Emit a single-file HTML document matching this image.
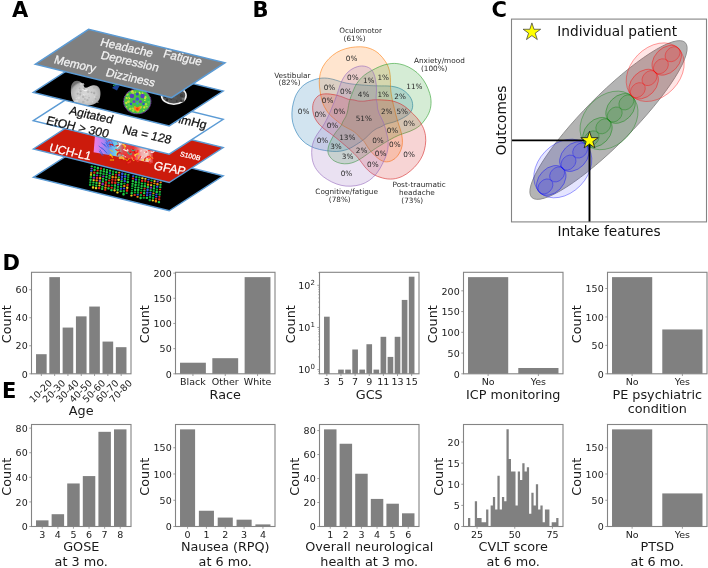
<!DOCTYPE html>
<html><head><meta charset="utf-8"><style>
html,body{margin:0;padding:0;background:#fff;}
svg{display:block;}
.t{font-family:'DejaVu Sans', 'Liberation Sans', sans-serif;font-size:9.5px;fill:#1a1a1a;}
.l{font-family:'DejaVu Sans', 'Liberation Sans', sans-serif;font-size:12.8px;fill:#1a1a1a;}
.pl{font-family:'DejaVu Sans','Liberation Sans',sans-serif;font-weight:bold;font-size:21px;fill:#000;}
.a{font-family:'Liberation Sans',Arial,sans-serif;}
.c{font-family:'DejaVu Sans', 'Liberation Sans', sans-serif;font-size:13.7px;fill:#111;}
.v{font-family:'DejaVu Sans', 'Liberation Sans', sans-serif;font-size:7.3px;fill:#2a2a2a;}
</style></head><body>
<svg width="708" height="568" viewBox="0 0 708 568">
<defs><filter id="bl1" x="-5%" y="-5%" width="110%" height="110%"><feGaussianBlur stdDeviation="0.35"/></filter>
<clipPath id="cl1"><path d="M35.1 64.3 L88.6 29.3 L225.1 62.7 L171.6 97.7 Z"/></clipPath>
<clipPath id="cl2"><path d="M33.3 92.4 L87.3 57.5 L223.2 91 L169.2 125.9 Z"/></clipPath>
<clipPath id="cl3"><path d="M33.3 120.7 L87.3 85.8 L223.2 119.3 L169.2 154.2 Z"/></clipPath>
<clipPath id="cl4"><path d="M33.3 149 L87.3 114.1 L223.2 147.6 L169.2 182.5 Z"/></clipPath>
<clipPath id="cl5"><path d="M33.3 177.3 L87.3 142.4 L223.2 175.9 L169.2 210.8 Z"/></clipPath>
</defs>
<rect x="36.02" y="354.19" width="10.64" height="19.61" fill="#808080"/>
<rect x="49.32" y="277.13" width="10.64" height="96.67" fill="#808080"/>
<rect x="62.63" y="327.57" width="10.64" height="46.23" fill="#808080"/>
<rect x="75.93" y="316.36" width="10.64" height="57.44" fill="#808080"/>
<rect x="89.23" y="306.55" width="10.64" height="67.25" fill="#808080"/>
<rect x="102.53" y="341.58" width="10.64" height="32.22" fill="#808080"/>
<rect x="115.84" y="347.18" width="10.64" height="26.62" fill="#808080"/>
<rect x="31.5" y="272.3" width="99.5" height="101.5" fill="none" stroke="#848484" stroke-width="1.1"/>
<line x1="29.3" y1="373.8" x2="31.5" y2="373.8" stroke="#848484" stroke-width="0.8"/>
<text x="27.7" y="377.5" text-anchor="end" class="t">0</text>
<line x1="29.3" y1="345.78" x2="31.5" y2="345.78" stroke="#848484" stroke-width="0.8"/>
<text x="27.7" y="349.48" text-anchor="end" class="t">20</text>
<line x1="29.3" y1="317.76" x2="31.5" y2="317.76" stroke="#848484" stroke-width="0.8"/>
<text x="27.7" y="321.46" text-anchor="end" class="t">40</text>
<line x1="29.3" y1="289.74" x2="31.5" y2="289.74" stroke="#848484" stroke-width="0.8"/>
<text x="27.7" y="293.44" text-anchor="end" class="t">60</text>
<line x1="41.34" y1="373.8" x2="41.34" y2="376" stroke="#848484" stroke-width="0.8"/>
<text transform="translate(43.07,393.5) rotate(-45)" text-anchor="middle" class="t">10-20</text>
<line x1="54.65" y1="373.8" x2="54.65" y2="376" stroke="#848484" stroke-width="0.8"/>
<text transform="translate(56.38,393.5) rotate(-45)" text-anchor="middle" class="t">20-30</text>
<line x1="67.95" y1="373.8" x2="67.95" y2="376" stroke="#848484" stroke-width="0.8"/>
<text transform="translate(69.68,393.5) rotate(-45)" text-anchor="middle" class="t">30-40</text>
<line x1="81.25" y1="373.8" x2="81.25" y2="376" stroke="#848484" stroke-width="0.8"/>
<text transform="translate(82.98,393.5) rotate(-45)" text-anchor="middle" class="t">40-50</text>
<line x1="94.55" y1="373.8" x2="94.55" y2="376" stroke="#848484" stroke-width="0.8"/>
<text transform="translate(96.28,393.5) rotate(-45)" text-anchor="middle" class="t">50-60</text>
<line x1="107.85" y1="373.8" x2="107.85" y2="376" stroke="#848484" stroke-width="0.8"/>
<text transform="translate(109.58,393.5) rotate(-45)" text-anchor="middle" class="t">60-70</text>
<line x1="121.16" y1="373.8" x2="121.16" y2="376" stroke="#848484" stroke-width="0.8"/>
<text transform="translate(122.89,393.5) rotate(-45)" text-anchor="middle" class="t">70-80</text>
<text x="81.25" y="415.1" text-anchor="middle" class="l">Age</text>
<text transform="translate(11.3,324.25) rotate(-90)" text-anchor="middle" class="l">Count</text>
<rect x="180.02" y="362.72" width="25.84" height="11.08" fill="#808080"/>
<rect x="212.33" y="358.19" width="25.84" height="15.61" fill="#808080"/>
<rect x="244.63" y="277.13" width="25.84" height="96.67" fill="#808080"/>
<rect x="175.5" y="272.3" width="99.5" height="101.5" fill="none" stroke="#848484" stroke-width="1.1"/>
<line x1="173.3" y1="373.8" x2="175.5" y2="373.8" stroke="#848484" stroke-width="0.8"/>
<text x="171.7" y="377.5" text-anchor="end" class="t">0</text>
<line x1="173.3" y1="348.63" x2="175.5" y2="348.63" stroke="#848484" stroke-width="0.8"/>
<text x="171.7" y="352.33" text-anchor="end" class="t">50</text>
<line x1="173.3" y1="323.45" x2="175.5" y2="323.45" stroke="#848484" stroke-width="0.8"/>
<text x="171.7" y="327.15" text-anchor="end" class="t">100</text>
<line x1="173.3" y1="298.28" x2="175.5" y2="298.28" stroke="#848484" stroke-width="0.8"/>
<text x="171.7" y="301.98" text-anchor="end" class="t">150</text>
<line x1="173.3" y1="273.11" x2="175.5" y2="273.11" stroke="#848484" stroke-width="0.8"/>
<text x="171.7" y="276.81" text-anchor="end" class="t">200</text>
<line x1="192.94" y1="373.8" x2="192.94" y2="376" stroke="#848484" stroke-width="0.8"/>
<text x="192.94" y="385.2" text-anchor="middle" class="t">Black</text>
<line x1="225.25" y1="373.8" x2="225.25" y2="376" stroke="#848484" stroke-width="0.8"/>
<text x="225.25" y="385.2" text-anchor="middle" class="t">Other</text>
<line x1="257.56" y1="373.8" x2="257.56" y2="376" stroke="#848484" stroke-width="0.8"/>
<text x="257.56" y="385.2" text-anchor="middle" class="t">White</text>
<text x="225.25" y="398.5" text-anchor="middle" class="l">Race</text>
<text transform="translate(149.3,324.25) rotate(-90)" text-anchor="middle" class="l">Count</text>
<rect x="324.02" y="316.69" width="5.65" height="57.11" fill="#808080"/>
<rect x="338.16" y="369.6" width="5.65" height="4.2" fill="#808080"/>
<rect x="345.22" y="369.6" width="5.65" height="4.2" fill="#808080"/>
<rect x="352.29" y="349.49" width="5.65" height="24.31" fill="#808080"/>
<rect x="359.36" y="369.6" width="5.65" height="4.2" fill="#808080"/>
<rect x="366.42" y="344.22" width="5.65" height="29.58" fill="#808080"/>
<rect x="373.49" y="369.6" width="5.65" height="4.2" fill="#808080"/>
<rect x="380.56" y="336.8" width="5.65" height="37" fill="#808080"/>
<rect x="387.62" y="356.91" width="5.65" height="16.89" fill="#808080"/>
<rect x="394.69" y="336.8" width="5.65" height="37" fill="#808080"/>
<rect x="401.76" y="299.92" width="5.65" height="73.88" fill="#808080"/>
<rect x="408.82" y="276.7" width="5.65" height="97.1" fill="#808080"/>
<rect x="319.5" y="272.3" width="99.5" height="101.5" fill="none" stroke="#848484" stroke-width="1.1"/>
<line x1="318.2" y1="373.68" x2="319.5" y2="373.68" stroke="#848484" stroke-width="0.6"/>
<line x1="318.2" y1="371.53" x2="319.5" y2="371.53" stroke="#848484" stroke-width="0.6"/>
<line x1="318.2" y1="356.91" x2="319.5" y2="356.91" stroke="#848484" stroke-width="0.6"/>
<line x1="318.2" y1="349.49" x2="319.5" y2="349.49" stroke="#848484" stroke-width="0.6"/>
<line x1="318.2" y1="344.22" x2="319.5" y2="344.22" stroke="#848484" stroke-width="0.6"/>
<line x1="318.2" y1="340.14" x2="319.5" y2="340.14" stroke="#848484" stroke-width="0.6"/>
<line x1="318.2" y1="336.8" x2="319.5" y2="336.8" stroke="#848484" stroke-width="0.6"/>
<line x1="318.2" y1="333.98" x2="319.5" y2="333.98" stroke="#848484" stroke-width="0.6"/>
<line x1="318.2" y1="331.53" x2="319.5" y2="331.53" stroke="#848484" stroke-width="0.6"/>
<line x1="318.2" y1="329.38" x2="319.5" y2="329.38" stroke="#848484" stroke-width="0.6"/>
<line x1="318.2" y1="314.76" x2="319.5" y2="314.76" stroke="#848484" stroke-width="0.6"/>
<line x1="318.2" y1="307.34" x2="319.5" y2="307.34" stroke="#848484" stroke-width="0.6"/>
<line x1="318.2" y1="302.07" x2="319.5" y2="302.07" stroke="#848484" stroke-width="0.6"/>
<line x1="318.2" y1="297.99" x2="319.5" y2="297.99" stroke="#848484" stroke-width="0.6"/>
<line x1="318.2" y1="294.65" x2="319.5" y2="294.65" stroke="#848484" stroke-width="0.6"/>
<line x1="318.2" y1="291.83" x2="319.5" y2="291.83" stroke="#848484" stroke-width="0.6"/>
<line x1="318.2" y1="289.38" x2="319.5" y2="289.38" stroke="#848484" stroke-width="0.6"/>
<line x1="318.2" y1="287.23" x2="319.5" y2="287.23" stroke="#848484" stroke-width="0.6"/>
<line x1="318.2" y1="272.61" x2="319.5" y2="272.61" stroke="#848484" stroke-width="0.6"/>
<line x1="317.3" y1="369.6" x2="319.5" y2="369.6" stroke="#848484" stroke-width="0.8"/>
<text x="314.9" y="373" text-anchor="end" class="t">10<tspan dy="-4" font-size="7">0</tspan></text>
<line x1="317.3" y1="327.45" x2="319.5" y2="327.45" stroke="#848484" stroke-width="0.8"/>
<text x="314.9" y="330.85" text-anchor="end" class="t">10<tspan dy="-4" font-size="7">1</tspan></text>
<line x1="317.3" y1="285.3" x2="319.5" y2="285.3" stroke="#848484" stroke-width="0.8"/>
<text x="314.9" y="288.7" text-anchor="end" class="t">10<tspan dy="-4" font-size="7">2</tspan></text>
<line x1="326.85" y1="373.8" x2="326.85" y2="376" stroke="#848484" stroke-width="0.8"/>
<text x="326.85" y="385.2" text-anchor="middle" class="t">3</text>
<line x1="340.98" y1="373.8" x2="340.98" y2="376" stroke="#848484" stroke-width="0.8"/>
<text x="340.98" y="385.2" text-anchor="middle" class="t">5</text>
<line x1="355.12" y1="373.8" x2="355.12" y2="376" stroke="#848484" stroke-width="0.8"/>
<text x="355.12" y="385.2" text-anchor="middle" class="t">7</text>
<line x1="369.25" y1="373.8" x2="369.25" y2="376" stroke="#848484" stroke-width="0.8"/>
<text x="369.25" y="385.2" text-anchor="middle" class="t">9</text>
<line x1="383.38" y1="373.8" x2="383.38" y2="376" stroke="#848484" stroke-width="0.8"/>
<text x="383.38" y="385.2" text-anchor="middle" class="t">11</text>
<line x1="397.52" y1="373.8" x2="397.52" y2="376" stroke="#848484" stroke-width="0.8"/>
<text x="397.52" y="385.2" text-anchor="middle" class="t">13</text>
<line x1="411.65" y1="373.8" x2="411.65" y2="376" stroke="#848484" stroke-width="0.8"/>
<text x="411.65" y="385.2" text-anchor="middle" class="t">15</text>
<text x="369.25" y="398.5" text-anchor="middle" class="l">GCS</text>
<text transform="translate(295.3,324.25) rotate(-90)" text-anchor="middle" class="l">Count</text>
<rect x="468.02" y="277.13" width="40.2" height="96.67" fill="#808080"/>
<rect x="518.28" y="367.99" width="40.2" height="5.81" fill="#808080"/>
<rect x="463.5" y="272.3" width="99.5" height="101.5" fill="none" stroke="#848484" stroke-width="1.1"/>
<line x1="461.3" y1="373.8" x2="463.5" y2="373.8" stroke="#848484" stroke-width="0.8"/>
<text x="459.7" y="377.5" text-anchor="end" class="t">0</text>
<line x1="461.3" y1="353.06" x2="463.5" y2="353.06" stroke="#848484" stroke-width="0.8"/>
<text x="459.7" y="356.76" text-anchor="end" class="t">50</text>
<line x1="461.3" y1="332.31" x2="463.5" y2="332.31" stroke="#848484" stroke-width="0.8"/>
<text x="459.7" y="336.01" text-anchor="end" class="t">100</text>
<line x1="461.3" y1="311.57" x2="463.5" y2="311.57" stroke="#848484" stroke-width="0.8"/>
<text x="459.7" y="315.27" text-anchor="end" class="t">150</text>
<line x1="461.3" y1="290.82" x2="463.5" y2="290.82" stroke="#848484" stroke-width="0.8"/>
<text x="459.7" y="294.52" text-anchor="end" class="t">200</text>
<line x1="488.12" y1="373.8" x2="488.12" y2="376" stroke="#848484" stroke-width="0.8"/>
<text x="488.12" y="385.2" text-anchor="middle" class="t">No</text>
<line x1="538.38" y1="373.8" x2="538.38" y2="376" stroke="#848484" stroke-width="0.8"/>
<text x="538.38" y="385.2" text-anchor="middle" class="t">Yes</text>
<text x="513.25" y="398.5" text-anchor="middle" class="l">ICP monitoring</text>
<text transform="translate(437.3,324.25) rotate(-90)" text-anchor="middle" class="l">Count</text>
<rect x="612.02" y="277.13" width="40.2" height="96.67" fill="#808080"/>
<rect x="662.28" y="329.45" width="40.2" height="44.35" fill="#808080"/>
<rect x="607.5" y="272.3" width="99.5" height="101.5" fill="none" stroke="#848484" stroke-width="1.1"/>
<line x1="605.3" y1="373.8" x2="607.5" y2="373.8" stroke="#848484" stroke-width="0.8"/>
<text x="603.7" y="377.5" text-anchor="end" class="t">0</text>
<line x1="605.3" y1="345.37" x2="607.5" y2="345.37" stroke="#848484" stroke-width="0.8"/>
<text x="603.7" y="349.07" text-anchor="end" class="t">50</text>
<line x1="605.3" y1="316.94" x2="607.5" y2="316.94" stroke="#848484" stroke-width="0.8"/>
<text x="603.7" y="320.64" text-anchor="end" class="t">100</text>
<line x1="605.3" y1="288.51" x2="607.5" y2="288.51" stroke="#848484" stroke-width="0.8"/>
<text x="603.7" y="292.21" text-anchor="end" class="t">150</text>
<line x1="632.12" y1="373.8" x2="632.12" y2="376" stroke="#848484" stroke-width="0.8"/>
<text x="632.12" y="385.2" text-anchor="middle" class="t">No</text>
<line x1="682.38" y1="373.8" x2="682.38" y2="376" stroke="#848484" stroke-width="0.8"/>
<text x="682.38" y="385.2" text-anchor="middle" class="t">Yes</text>
<text x="657.25" y="398.5" text-anchor="middle" class="l">PE psychiatric</text>
<text x="657.25" y="413.1" text-anchor="middle" class="l">condition</text>
<text transform="translate(581.3,324.25) rotate(-90)" text-anchor="middle" class="l">Count</text>
<rect x="36.02" y="520.35" width="12.48" height="6.15" fill="#808080"/>
<rect x="51.62" y="514.2" width="12.48" height="12.3" fill="#808080"/>
<rect x="67.21" y="483.46" width="12.48" height="43.04" fill="#808080"/>
<rect x="82.81" y="476.08" width="12.48" height="50.42" fill="#808080"/>
<rect x="98.41" y="431.82" width="12.48" height="94.68" fill="#808080"/>
<rect x="114" y="429.36" width="12.48" height="97.14" fill="#808080"/>
<rect x="31.5" y="424.5" width="99.5" height="102" fill="none" stroke="#848484" stroke-width="1.1"/>
<line x1="29.3" y1="526.5" x2="31.5" y2="526.5" stroke="#848484" stroke-width="0.8"/>
<text x="27.7" y="530.2" text-anchor="end" class="t">0</text>
<line x1="29.3" y1="501.91" x2="31.5" y2="501.91" stroke="#848484" stroke-width="0.8"/>
<text x="27.7" y="505.61" text-anchor="end" class="t">20</text>
<line x1="29.3" y1="477.31" x2="31.5" y2="477.31" stroke="#848484" stroke-width="0.8"/>
<text x="27.7" y="481.01" text-anchor="end" class="t">40</text>
<line x1="29.3" y1="452.72" x2="31.5" y2="452.72" stroke="#848484" stroke-width="0.8"/>
<text x="27.7" y="456.42" text-anchor="end" class="t">60</text>
<line x1="29.3" y1="428.13" x2="31.5" y2="428.13" stroke="#848484" stroke-width="0.8"/>
<text x="27.7" y="431.83" text-anchor="end" class="t">80</text>
<line x1="42.26" y1="526.5" x2="42.26" y2="528.7" stroke="#848484" stroke-width="0.8"/>
<text x="42.26" y="537.9" text-anchor="middle" class="t">3</text>
<line x1="57.86" y1="526.5" x2="57.86" y2="528.7" stroke="#848484" stroke-width="0.8"/>
<text x="57.86" y="537.9" text-anchor="middle" class="t">4</text>
<line x1="73.45" y1="526.5" x2="73.45" y2="528.7" stroke="#848484" stroke-width="0.8"/>
<text x="73.45" y="537.9" text-anchor="middle" class="t">5</text>
<line x1="89.05" y1="526.5" x2="89.05" y2="528.7" stroke="#848484" stroke-width="0.8"/>
<text x="89.05" y="537.9" text-anchor="middle" class="t">6</text>
<line x1="104.64" y1="526.5" x2="104.64" y2="528.7" stroke="#848484" stroke-width="0.8"/>
<text x="104.64" y="537.9" text-anchor="middle" class="t">7</text>
<line x1="120.24" y1="526.5" x2="120.24" y2="528.7" stroke="#848484" stroke-width="0.8"/>
<text x="120.24" y="537.9" text-anchor="middle" class="t">8</text>
<text x="81.25" y="551.2" text-anchor="middle" class="l">GOSE</text>
<text x="81.25" y="565.8" text-anchor="middle" class="l">at 3 mo.</text>
<text transform="translate(11.3,476.7) rotate(-90)" text-anchor="middle" class="l">Count</text>
<rect x="180.02" y="429.36" width="15.08" height="97.14" fill="#808080"/>
<rect x="198.87" y="510.75" width="15.08" height="15.75" fill="#808080"/>
<rect x="217.71" y="517.57" width="15.08" height="8.93" fill="#808080"/>
<rect x="236.56" y="519.67" width="15.08" height="6.83" fill="#808080"/>
<rect x="255.4" y="524.4" width="15.08" height="2.1" fill="#808080"/>
<rect x="175.5" y="424.5" width="99.5" height="102" fill="none" stroke="#848484" stroke-width="1.1"/>
<line x1="173.3" y1="526.5" x2="175.5" y2="526.5" stroke="#848484" stroke-width="0.8"/>
<text x="171.7" y="530.2" text-anchor="end" class="t">0</text>
<line x1="173.3" y1="500.25" x2="175.5" y2="500.25" stroke="#848484" stroke-width="0.8"/>
<text x="171.7" y="503.95" text-anchor="end" class="t">50</text>
<line x1="173.3" y1="473.99" x2="175.5" y2="473.99" stroke="#848484" stroke-width="0.8"/>
<text x="171.7" y="477.69" text-anchor="end" class="t">100</text>
<line x1="173.3" y1="447.74" x2="175.5" y2="447.74" stroke="#848484" stroke-width="0.8"/>
<text x="171.7" y="451.44" text-anchor="end" class="t">150</text>
<line x1="187.56" y1="526.5" x2="187.56" y2="528.7" stroke="#848484" stroke-width="0.8"/>
<text x="187.56" y="537.9" text-anchor="middle" class="t">0</text>
<line x1="206.41" y1="526.5" x2="206.41" y2="528.7" stroke="#848484" stroke-width="0.8"/>
<text x="206.41" y="537.9" text-anchor="middle" class="t">1</text>
<line x1="225.25" y1="526.5" x2="225.25" y2="528.7" stroke="#848484" stroke-width="0.8"/>
<text x="225.25" y="537.9" text-anchor="middle" class="t">2</text>
<line x1="244.09" y1="526.5" x2="244.09" y2="528.7" stroke="#848484" stroke-width="0.8"/>
<text x="244.09" y="537.9" text-anchor="middle" class="t">3</text>
<line x1="262.94" y1="526.5" x2="262.94" y2="528.7" stroke="#848484" stroke-width="0.8"/>
<text x="262.94" y="537.9" text-anchor="middle" class="t">4</text>
<text x="225.25" y="551.2" text-anchor="middle" class="l">Nausea (RPQ)</text>
<text x="225.25" y="565.8" text-anchor="middle" class="l">at 6 mo.</text>
<text transform="translate(149.3,476.7) rotate(-90)" text-anchor="middle" class="l">Count</text>
<rect x="324.02" y="429.36" width="12.48" height="97.14" fill="#808080"/>
<rect x="339.62" y="443.75" width="12.48" height="82.75" fill="#808080"/>
<rect x="355.21" y="473.73" width="12.48" height="52.77" fill="#808080"/>
<rect x="370.81" y="498.92" width="12.48" height="27.58" fill="#808080"/>
<rect x="386.41" y="503.71" width="12.48" height="22.79" fill="#808080"/>
<rect x="402" y="513.31" width="12.48" height="13.19" fill="#808080"/>
<rect x="319.5" y="424.5" width="99.5" height="102" fill="none" stroke="#848484" stroke-width="1.1"/>
<line x1="317.3" y1="526.5" x2="319.5" y2="526.5" stroke="#848484" stroke-width="0.8"/>
<text x="315.7" y="530.2" text-anchor="end" class="t">0</text>
<line x1="317.3" y1="502.51" x2="319.5" y2="502.51" stroke="#848484" stroke-width="0.8"/>
<text x="315.7" y="506.21" text-anchor="end" class="t">20</text>
<line x1="317.3" y1="478.53" x2="319.5" y2="478.53" stroke="#848484" stroke-width="0.8"/>
<text x="315.7" y="482.23" text-anchor="end" class="t">40</text>
<line x1="317.3" y1="454.54" x2="319.5" y2="454.54" stroke="#848484" stroke-width="0.8"/>
<text x="315.7" y="458.24" text-anchor="end" class="t">60</text>
<line x1="317.3" y1="430.56" x2="319.5" y2="430.56" stroke="#848484" stroke-width="0.8"/>
<text x="315.7" y="434.26" text-anchor="end" class="t">80</text>
<line x1="330.26" y1="526.5" x2="330.26" y2="528.7" stroke="#848484" stroke-width="0.8"/>
<text x="330.26" y="537.9" text-anchor="middle" class="t">1</text>
<line x1="345.86" y1="526.5" x2="345.86" y2="528.7" stroke="#848484" stroke-width="0.8"/>
<text x="345.86" y="537.9" text-anchor="middle" class="t">2</text>
<line x1="361.45" y1="526.5" x2="361.45" y2="528.7" stroke="#848484" stroke-width="0.8"/>
<text x="361.45" y="537.9" text-anchor="middle" class="t">3</text>
<line x1="377.05" y1="526.5" x2="377.05" y2="528.7" stroke="#848484" stroke-width="0.8"/>
<text x="377.05" y="537.9" text-anchor="middle" class="t">4</text>
<line x1="392.64" y1="526.5" x2="392.64" y2="528.7" stroke="#848484" stroke-width="0.8"/>
<text x="392.64" y="537.9" text-anchor="middle" class="t">5</text>
<line x1="408.24" y1="526.5" x2="408.24" y2="528.7" stroke="#848484" stroke-width="0.8"/>
<text x="408.24" y="537.9" text-anchor="middle" class="t">6</text>
<text x="369.25" y="551.2" text-anchor="middle" class="l">Overall neurological</text>
<text x="369.25" y="565.8" text-anchor="middle" class="l">health at 3 mo.</text>
<text transform="translate(299.3,476.7) rotate(-90)" text-anchor="middle" class="l">Count</text>
<path d="M468.02 526.5V518.05H470.28V526.5ZM474.81 526.5V501.16H477.07V526.5ZM477.07 526.5V518.05H479.33V526.5ZM479.33 526.5V518.05H481.59V526.5ZM481.59 526.5V522.28H483.85V526.5ZM483.85 526.5V522.28H486.11V526.5ZM486.11 526.5V509.61H488.38V526.5ZM490.64 526.5V505.38H492.9V526.5ZM492.9 526.5V496.93H495.16V526.5ZM495.16 526.5V509.61H497.42V526.5ZM497.42 526.5V475.82H499.68V526.5ZM499.68 526.5V509.61H501.94V526.5ZM501.94 526.5V496.93H504.2V526.5ZM504.2 526.5V501.16H506.47V526.5ZM506.47 526.5V429.36H508.73V526.5ZM508.73 526.5V458.92H510.99V526.5ZM510.99 526.5V471.59H513.25V526.5ZM513.25 526.5V471.59H515.51V526.5ZM515.51 526.5V505.38H517.77V526.5ZM517.77 526.5V471.59H520.03V526.5ZM520.03 526.5V480.04H522.3V526.5ZM522.3 526.5V463.15H524.56V526.5ZM524.56 526.5V471.59H526.82V526.5ZM526.82 526.5V467.37H529.08V526.5ZM529.08 526.5V513.83H531.34V526.5ZM531.34 526.5V492.71H533.6V526.5ZM533.6 526.5V505.38H535.86V526.5ZM535.86 526.5V484.26H538.12V526.5ZM538.12 526.5V509.61H540.39V526.5ZM540.39 526.5V505.38H542.65V526.5ZM542.65 526.5V522.28H544.91V526.5ZM544.91 526.5V509.61H547.17V526.5ZM547.17 526.5V509.61H549.43V526.5ZM551.69 526.5V522.28H553.95V526.5ZM553.95 526.5V522.28H556.22V526.5ZM556.22 526.5V518.05H558.48V526.5Z" fill="#808080"/>
<rect x="463.5" y="424.5" width="99.5" height="102" fill="none" stroke="#848484" stroke-width="1.1"/>
<line x1="461.3" y1="526.5" x2="463.5" y2="526.5" stroke="#848484" stroke-width="0.8"/>
<text x="459.7" y="530.2" text-anchor="end" class="t">0</text>
<line x1="461.3" y1="505.38" x2="463.5" y2="505.38" stroke="#848484" stroke-width="0.8"/>
<text x="459.7" y="509.08" text-anchor="end" class="t">5</text>
<line x1="461.3" y1="484.26" x2="463.5" y2="484.26" stroke="#848484" stroke-width="0.8"/>
<text x="459.7" y="487.96" text-anchor="end" class="t">10</text>
<line x1="461.3" y1="463.15" x2="463.5" y2="463.15" stroke="#848484" stroke-width="0.8"/>
<text x="459.7" y="466.85" text-anchor="end" class="t">15</text>
<line x1="461.3" y1="442.03" x2="463.5" y2="442.03" stroke="#848484" stroke-width="0.8"/>
<text x="459.7" y="445.73" text-anchor="end" class="t">20</text>
<line x1="477.07" y1="526.5" x2="477.07" y2="528.7" stroke="#848484" stroke-width="0.8"/>
<text x="477.07" y="537.9" text-anchor="middle" class="t">25</text>
<line x1="514.76" y1="526.5" x2="514.76" y2="528.7" stroke="#848484" stroke-width="0.8"/>
<text x="514.76" y="537.9" text-anchor="middle" class="t">50</text>
<line x1="552.45" y1="526.5" x2="552.45" y2="528.7" stroke="#848484" stroke-width="0.8"/>
<text x="552.45" y="537.9" text-anchor="middle" class="t">75</text>
<text x="513.25" y="551.2" text-anchor="middle" class="l">CVLT score</text>
<text x="513.25" y="565.8" text-anchor="middle" class="l">at 6 mo.</text>
<text transform="translate(443.3,476.7) rotate(-90)" text-anchor="middle" class="l">Count</text>
<rect x="612.02" y="429.36" width="40.2" height="97.14" fill="#808080"/>
<rect x="662.28" y="493.42" width="40.2" height="33.08" fill="#808080"/>
<rect x="607.5" y="424.5" width="99.5" height="102" fill="none" stroke="#848484" stroke-width="1.1"/>
<line x1="605.3" y1="526.5" x2="607.5" y2="526.5" stroke="#848484" stroke-width="0.8"/>
<text x="603.7" y="530.2" text-anchor="end" class="t">0</text>
<line x1="605.3" y1="500.25" x2="607.5" y2="500.25" stroke="#848484" stroke-width="0.8"/>
<text x="603.7" y="503.95" text-anchor="end" class="t">50</text>
<line x1="605.3" y1="473.99" x2="607.5" y2="473.99" stroke="#848484" stroke-width="0.8"/>
<text x="603.7" y="477.69" text-anchor="end" class="t">100</text>
<line x1="605.3" y1="447.74" x2="607.5" y2="447.74" stroke="#848484" stroke-width="0.8"/>
<text x="603.7" y="451.44" text-anchor="end" class="t">150</text>
<line x1="632.12" y1="526.5" x2="632.12" y2="528.7" stroke="#848484" stroke-width="0.8"/>
<text x="632.12" y="537.9" text-anchor="middle" class="t">No</text>
<line x1="682.38" y1="526.5" x2="682.38" y2="528.7" stroke="#848484" stroke-width="0.8"/>
<text x="682.38" y="537.9" text-anchor="middle" class="t">Yes</text>
<text x="657.25" y="551.2" text-anchor="middle" class="l">PTSD</text>
<text x="657.25" y="565.8" text-anchor="middle" class="l">at 6 mo.</text>
<text transform="translate(581.3,476.7) rotate(-90)" text-anchor="middle" class="l">Count</text>
<text x="12" y="17.4" class="pl">A</text>
<text x="252.5" y="17.2" class="pl">B</text>
<text x="491.6" y="17" class="pl">C</text>
<text x="2.6" y="270" class="pl">D</text>
<text x="2.0" y="398" class="pl">E</text>
<ellipse cx="608.5" cy="120.0" rx="109" ry="24.5" transform="rotate(-45.3 608.5 120.0)" fill="#b4b4b4" stroke="#8c8c8c" stroke-width="0.9"/>
<ellipse cx="562.8" cy="168.5" rx="33.2" ry="24.5" transform="rotate(-46.0 562.8 168.5)" fill="#0000ff" fill-opacity="0.1" stroke="#0000ff" stroke-opacity="0.45" stroke-width="0.8"/>
<ellipse cx="551.27" cy="180.44" rx="16.9" ry="12.3" transform="rotate(-46.0 551.27 180.44)" fill="#0000ff" fill-opacity="0.14" stroke="#0000ff" stroke-opacity="0.5" stroke-width="0.8"/>
<ellipse cx="545.43" cy="186.48" rx="8.4" ry="6.5" transform="rotate(-46.0 545.43 186.48)" fill="#0000ff" fill-opacity="0.1" stroke="#0000ff" stroke-opacity="0.5" stroke-width="0.7"/>
<ellipse cx="557.1" cy="174.4" rx="8.4" ry="6.5" transform="rotate(-46.0 557.1 174.4)" fill="#0000ff" fill-opacity="0.1" stroke="#0000ff" stroke-opacity="0.5" stroke-width="0.7"/>
<ellipse cx="574.33" cy="156.56" rx="16.9" ry="12.3" transform="rotate(-46.0 574.33 156.56)" fill="#0000ff" fill-opacity="0.14" stroke="#0000ff" stroke-opacity="0.5" stroke-width="0.8"/>
<ellipse cx="568.5" cy="162.6" rx="8.4" ry="6.5" transform="rotate(-46.0 568.5 162.6)" fill="#0000ff" fill-opacity="0.1" stroke="#0000ff" stroke-opacity="0.5" stroke-width="0.7"/>
<ellipse cx="580.17" cy="150.52" rx="8.4" ry="6.5" transform="rotate(-46.0 580.17 150.52)" fill="#0000ff" fill-opacity="0.1" stroke="#0000ff" stroke-opacity="0.5" stroke-width="0.7"/>
<ellipse cx="609.0" cy="120.4" rx="33.2" ry="24.5" transform="rotate(-46.0 609.0 120.4)" fill="#008000" fill-opacity="0.1" stroke="#008000" stroke-opacity="0.45" stroke-width="0.8"/>
<ellipse cx="597.47" cy="132.34" rx="16.9" ry="12.3" transform="rotate(-46.0 597.47 132.34)" fill="#008000" fill-opacity="0.14" stroke="#008000" stroke-opacity="0.5" stroke-width="0.8"/>
<ellipse cx="591.63" cy="138.38" rx="8.4" ry="6.5" transform="rotate(-46.0 591.63 138.38)" fill="#008000" fill-opacity="0.1" stroke="#008000" stroke-opacity="0.5" stroke-width="0.7"/>
<ellipse cx="603.3" cy="126.3" rx="8.4" ry="6.5" transform="rotate(-46.0 603.3 126.3)" fill="#008000" fill-opacity="0.1" stroke="#008000" stroke-opacity="0.5" stroke-width="0.7"/>
<ellipse cx="620.53" cy="108.46" rx="16.9" ry="12.3" transform="rotate(-46.0 620.53 108.46)" fill="#008000" fill-opacity="0.14" stroke="#008000" stroke-opacity="0.5" stroke-width="0.8"/>
<ellipse cx="614.7" cy="114.5" rx="8.4" ry="6.5" transform="rotate(-46.0 614.7 114.5)" fill="#008000" fill-opacity="0.1" stroke="#008000" stroke-opacity="0.5" stroke-width="0.7"/>
<ellipse cx="626.37" cy="102.42" rx="8.4" ry="6.5" transform="rotate(-46.0 626.37 102.42)" fill="#008000" fill-opacity="0.1" stroke="#008000" stroke-opacity="0.5" stroke-width="0.7"/>
<ellipse cx="655.2" cy="72.2" rx="33.2" ry="24.5" transform="rotate(-46.0 655.2 72.2)" fill="#ff0000" fill-opacity="0.1" stroke="#ff0000" stroke-opacity="0.45" stroke-width="0.8"/>
<ellipse cx="643.67" cy="84.14" rx="16.9" ry="12.3" transform="rotate(-46.0 643.67 84.14)" fill="#ff0000" fill-opacity="0.14" stroke="#ff0000" stroke-opacity="0.5" stroke-width="0.8"/>
<ellipse cx="637.83" cy="90.18" rx="8.4" ry="6.5" transform="rotate(-46.0 637.83 90.18)" fill="#ff0000" fill-opacity="0.1" stroke="#ff0000" stroke-opacity="0.5" stroke-width="0.7"/>
<ellipse cx="649.5" cy="78.1" rx="8.4" ry="6.5" transform="rotate(-46.0 649.5 78.1)" fill="#ff0000" fill-opacity="0.1" stroke="#ff0000" stroke-opacity="0.5" stroke-width="0.7"/>
<ellipse cx="666.73" cy="60.26" rx="16.9" ry="12.3" transform="rotate(-46.0 666.73 60.26)" fill="#ff0000" fill-opacity="0.14" stroke="#ff0000" stroke-opacity="0.5" stroke-width="0.8"/>
<ellipse cx="660.9" cy="66.3" rx="8.4" ry="6.5" transform="rotate(-46.0 660.9 66.3)" fill="#ff0000" fill-opacity="0.1" stroke="#ff0000" stroke-opacity="0.5" stroke-width="0.7"/>
<ellipse cx="672.57" cy="54.22" rx="8.4" ry="6.5" transform="rotate(-46.0 672.57 54.22)" fill="#ff0000" fill-opacity="0.1" stroke="#ff0000" stroke-opacity="0.5" stroke-width="0.7"/>
<path d="M511.5 140.4H589.5V221.9" fill="none" stroke="#000" stroke-width="1.9"/>
<polygon points="589.5,131.3 591.57,137.66 598.25,137.66 592.84,141.59 594.91,147.94 589.5,144.01 584.09,147.94 586.16,141.59 580.75,137.66 587.43,137.66" fill="#ffff00" stroke="#222" stroke-width="0.9" stroke-linejoin="miter"/>
<polygon points="531.9,22.9 533.97,29.26 540.65,29.26 535.24,33.19 537.31,39.54 531.9,35.61 526.49,39.54 528.56,33.19 523.15,29.26 529.83,29.26" fill="#ffff00" stroke="#333" stroke-width="0.7" stroke-linejoin="miter"/>
<rect x="511.5" y="19.1" width="195" height="202.8" fill="none" stroke="#848484" stroke-width="1.1"/>
<text x="557.3" y="36" class="c">Individual patient</text>
<text x="609.0" y="236.3" text-anchor="middle" class="c">Intake features</text>
<text transform="translate(505.6,120.5) rotate(-90)" text-anchor="middle" class="c">Outcomes</text>
<path d="M33.3 177.3 L87.3 142.4 L223.2 175.9 L169.2 210.8 Z" fill="#000"/>
<g clip-path="url(#cl5)">
<g filter="url(#bl1)">
<rect x="90.6" y="165.4" width="2.35" height="1.92" rx="0.8" fill="#22cc44"/>
<rect x="90.39" y="167.71" width="2.35" height="1.65" rx="0.8" fill="#8833bb"/>
<rect x="90.22" y="169.64" width="2.35" height="2.18" rx="0.8" fill="#3355dd"/>
<rect x="89.99" y="172.15" width="2.35" height="1.69" rx="0.8" fill="#e8d020"/>
<rect x="89.82" y="174.11" width="2.35" height="1.69" rx="0.8" fill="#e8d020"/>
<rect x="89.64" y="176.07" width="2.35" height="2.17" rx="0.8" fill="#11aa33"/>
<rect x="89.4" y="178.71" width="2.35" height="2.18" rx="0.8" fill="#22cc44"/>
<rect x="89.17" y="181.34" width="2.35" height="2" rx="0.8" fill="#11aa33"/>
<rect x="88.96" y="183.61" width="2.35" height="2.46" rx="0.8" fill="#11aa33"/>
<rect x="93.65" y="166.12" width="2.35" height="2.14" rx="0.8" fill="#11aa33"/>
<rect x="93.42" y="168.7" width="2.35" height="2.28" rx="0.8" fill="#22cc44"/>
<rect x="93.17" y="171.44" width="2.35" height="2.24" rx="0.8" fill="#dd2a1a"/>
<rect x="92.94" y="173.96" width="2.35" height="2.31" rx="0.8" fill="#22cc44"/>
<rect x="92.69" y="176.74" width="2.35" height="2.1" rx="0.8" fill="#8833bb"/>
<rect x="92.47" y="179.24" width="2.35" height="1.91" rx="0.8" fill="#e8d020"/>
<rect x="92.26" y="181.53" width="2.35" height="1.85" rx="0.8" fill="#22cc44"/>
<rect x="92.05" y="183.87" width="2.35" height="1.84" rx="0.8" fill="#11aa33"/>
<rect x="91.85" y="186.15" width="2.35" height="2.48" rx="0.8" fill="#e8d020"/>
<rect x="96.7" y="166.83" width="2.35" height="2.58" rx="0.8" fill="#22cc44"/>
<rect x="96.43" y="169.84" width="2.35" height="1.76" rx="0.8" fill="#dd2a1a"/>
<rect x="96.24" y="171.91" width="2.35" height="2.09" rx="0.8" fill="#22cc44"/>
<rect x="96" y="174.59" width="2.35" height="1.68" rx="0.8" fill="#8833bb"/>
<rect x="95.81" y="176.71" width="2.35" height="2.48" rx="0.8" fill="#dd2a1a"/>
<rect x="95.55" y="179.56" width="2.35" height="1.95" rx="0.8" fill="#f08a10"/>
<rect x="95.34" y="181.96" width="2.35" height="2.06" rx="0.8" fill="#22cc44"/>
<rect x="95.1" y="184.6" width="2.35" height="2.07" rx="0.8" fill="#22cc44"/>
<rect x="94.89" y="186.94" width="2.35" height="2.3" rx="0.8" fill="#e8d020"/>
<rect x="99.75" y="167.55" width="2.35" height="1.99" rx="0.8" fill="#dd2a1a"/>
<rect x="99.55" y="169.79" width="2.35" height="2.06" rx="0.8" fill="#22cc44"/>
<rect x="99.32" y="172.32" width="2.35" height="2.09" rx="0.8" fill="#22cc44"/>
<rect x="99.09" y="174.93" width="2.35" height="1.73" rx="0.8" fill="#11aa33"/>
<rect x="98.89" y="177.05" width="2.35" height="2.52" rx="0.8" fill="#f08a10"/>
<rect x="98.64" y="179.85" width="2.35" height="2.05" rx="0.8" fill="#8833bb"/>
<rect x="98.43" y="182.24" width="2.35" height="1.74" rx="0.8" fill="#e8d020"/>
<rect x="98.22" y="184.53" width="2.35" height="1.88" rx="0.8" fill="#e8d020"/>
<rect x="98" y="187.01" width="2.35" height="2.28" rx="0.8" fill="#dd2a1a"/>
<rect x="102.8" y="168.27" width="2.35" height="1.75" rx="0.8" fill="#22cc44"/>
<rect x="102.62" y="170.32" width="2.35" height="2.26" rx="0.8" fill="#22cc44"/>
<rect x="102.37" y="173" width="2.35" height="2.19" rx="0.8" fill="#11aa33"/>
<rect x="102.15" y="175.54" width="2.35" height="1.75" rx="0.8" fill="#8833bb"/>
<rect x="101.95" y="177.66" width="2.35" height="2.17" rx="0.8" fill="#22cc44"/>
<rect x="101.72" y="180.32" width="2.35" height="2.12" rx="0.8" fill="#22cc44"/>
<rect x="101.49" y="182.85" width="2.35" height="2.47" rx="0.8" fill="#8833bb"/>
<rect x="101.23" y="185.7" width="2.35" height="2" rx="0.8" fill="#22cc44"/>
<rect x="101.01" y="188.12" width="2.35" height="2" rx="0.8" fill="#22cc44"/>
<rect x="105.85" y="168.98" width="2.35" height="1.81" rx="0.8" fill="#22cc44"/>
<rect x="105.66" y="171.08" width="2.35" height="2.2" rx="0.8" fill="#22cc44"/>
<rect x="105.44" y="173.53" width="2.35" height="1.75" rx="0.8" fill="#22cc44"/>
<rect x="105.23" y="175.87" width="2.35" height="2.21" rx="0.8" fill="#22cc44"/>
<rect x="104.98" y="178.63" width="2.35" height="2.21" rx="0.8" fill="#22cc44"/>
<rect x="104.74" y="181.32" width="2.35" height="2.56" rx="0.8" fill="#dd2a1a"/>
<rect x="104.47" y="184.29" width="2.35" height="1.72" rx="0.8" fill="#f08a10"/>
<rect x="104.26" y="186.61" width="2.35" height="2.07" rx="0.8" fill="#f08a10"/>
<rect x="104.05" y="189.03" width="2.35" height="1.74" rx="0.8" fill="#dd2a1a"/>
<rect x="108.9" y="169.7" width="2.35" height="2.08" rx="0.8" fill="#22cc44"/>
<rect x="108.67" y="172.21" width="2.35" height="1.81" rx="0.8" fill="#3355dd"/>
<rect x="108.48" y="174.39" width="2.35" height="2.29" rx="0.8" fill="#22cc44"/>
<rect x="108.23" y="177.2" width="2.35" height="1.9" rx="0.8" fill="#22cc44"/>
<rect x="108.01" y="179.59" width="2.35" height="1.86" rx="0.8" fill="#dd2a1a"/>
<rect x="107.79" y="182.02" width="2.35" height="1.96" rx="0.8" fill="#11aa33"/>
<rect x="107.58" y="184.41" width="2.35" height="2.38" rx="0.8" fill="#dd2a1a"/>
<rect x="107.32" y="187.26" width="2.35" height="2.21" rx="0.8" fill="#22cc44"/>
<rect x="111.95" y="170.42" width="2.35" height="2.42" rx="0.8" fill="#11aa33"/>
<rect x="111.7" y="173.16" width="2.35" height="2.09" rx="0.8" fill="#22cc44"/>
<rect x="111.46" y="175.84" width="2.35" height="2.39" rx="0.8" fill="#f08a10"/>
<rect x="111.22" y="178.58" width="2.35" height="2.29" rx="0.8" fill="#dd2a1a"/>
<rect x="110.97" y="181.27" width="2.35" height="2.54" rx="0.8" fill="#dd2a1a"/>
<rect x="110.69" y="184.4" width="2.35" height="1.96" rx="0.8" fill="#11aa33"/>
<rect x="110.49" y="186.65" width="2.35" height="2.07" rx="0.8" fill="#dd2a1a"/>
<rect x="110.27" y="189.04" width="2.35" height="2.22" rx="0.8" fill="#22cc44"/>
<rect x="115" y="171.13" width="2.35" height="2.25" rx="0.8" fill="#22cc44"/>
<rect x="114.75" y="173.93" width="2.35" height="1.72" rx="0.8" fill="#dd2a1a"/>
<rect x="114.55" y="176.17" width="2.35" height="2.35" rx="0.8" fill="#f08a10"/>
<rect x="114.28" y="179.08" width="2.35" height="2.03" rx="0.8" fill="#dd2a1a"/>
<rect x="114.08" y="181.4" width="2.35" height="2.55" rx="0.8" fill="#dd2a1a"/>
<rect x="113.81" y="184.36" width="2.35" height="2.34" rx="0.8" fill="#22cc44"/>
<rect x="113.55" y="187.2" width="2.35" height="1.77" rx="0.8" fill="#22cc44"/>
<rect x="113.37" y="189.23" width="2.35" height="2.19" rx="0.8" fill="#e8d020"/>
<rect x="118.05" y="171.85" width="2.35" height="1.75" rx="0.8" fill="#f08a10"/>
<rect x="117.85" y="174.08" width="2.35" height="1.95" rx="0.8" fill="#8833bb"/>
<rect x="117.63" y="176.47" width="2.35" height="1.62" rx="0.8" fill="#22cc44"/>
<rect x="117.45" y="178.52" width="2.35" height="2.53" rx="0.8" fill="#e8d020"/>
<rect x="117.17" y="181.65" width="2.35" height="1.79" rx="0.8" fill="#22cc44"/>
<rect x="116.98" y="183.71" width="2.35" height="1.81" rx="0.8" fill="#3355dd"/>
<rect x="116.79" y="185.86" width="2.35" height="2.19" rx="0.8" fill="#11aa33"/>
<rect x="116.55" y="188.48" width="2.35" height="2.43" rx="0.8" fill="#22cc44"/>
<rect x="116.28" y="191.49" width="2.35" height="1.95" rx="0.8" fill="#e8d020"/>
<rect x="121.1" y="172.57" width="2.35" height="2.42" rx="0.8" fill="#3355dd"/>
<rect x="120.85" y="175.38" width="2.35" height="2.52" rx="0.8" fill="#3355dd"/>
<rect x="120.59" y="178.19" width="2.35" height="1.75" rx="0.8" fill="#3355dd"/>
<rect x="120.41" y="180.2" width="2.35" height="2.04" rx="0.8" fill="#22cc44"/>
<rect x="120.19" y="182.7" width="2.35" height="2.38" rx="0.8" fill="#22cc44"/>
<rect x="119.95" y="185.39" width="2.35" height="2.07" rx="0.8" fill="#22cc44"/>
<rect x="119.72" y="187.91" width="2.35" height="1.93" rx="0.8" fill="#3355dd"/>
<rect x="119.51" y="190.27" width="2.35" height="2.08" rx="0.8" fill="#22cc44"/>
<rect x="124.15" y="173.28" width="2.35" height="1.66" rx="0.8" fill="#22cc44"/>
<rect x="123.97" y="175.29" width="2.35" height="2.37" rx="0.8" fill="#3355dd"/>
<rect x="123.72" y="178.07" width="2.35" height="1.63" rx="0.8" fill="#22cc44"/>
<rect x="123.54" y="180.1" width="2.35" height="2.21" rx="0.8" fill="#3355dd"/>
<rect x="123.3" y="182.78" width="2.35" height="1.8" rx="0.8" fill="#11aa33"/>
<rect x="123.1" y="184.98" width="2.35" height="2.13" rx="0.8" fill="#f08a10"/>
<rect x="122.87" y="187.54" width="2.35" height="1.85" rx="0.8" fill="#3355dd"/>
<rect x="122.65" y="189.95" width="2.35" height="2.54" rx="0.8" fill="#11aa33"/>
<rect x="122.37" y="193.06" width="2.35" height="2.49" rx="0.8" fill="#22cc44"/>
<rect x="127.2" y="174" width="2.35" height="1.74" rx="0.8" fill="#22cc44"/>
<rect x="127.01" y="176.13" width="2.35" height="1.92" rx="0.8" fill="#11aa33"/>
<rect x="126.8" y="178.44" width="2.35" height="1.81" rx="0.8" fill="#11aa33"/>
<rect x="126.59" y="180.78" width="2.35" height="2.5" rx="0.8" fill="#22cc44"/>
<rect x="126.31" y="183.85" width="2.35" height="2.24" rx="0.8" fill="#dd2a1a"/>
<rect x="126.08" y="186.4" width="2.35" height="2.48" rx="0.8" fill="#e8d020"/>
<rect x="125.83" y="189.21" width="2.35" height="2.55" rx="0.8" fill="#dd2a1a"/>
<rect x="125.55" y="192.32" width="2.35" height="1.76" rx="0.8" fill="#11aa33"/>
<rect x="132.05" y="175.14" width="2.35" height="2.03" rx="0.8" fill="#3355dd"/>
<rect x="131.83" y="177.56" width="2.35" height="2.02" rx="0.8" fill="#dd2a1a"/>
<rect x="131.62" y="179.95" width="2.35" height="2.32" rx="0.8" fill="#22cc44"/>
<rect x="131.38" y="182.64" width="2.35" height="2.06" rx="0.8" fill="#22cc44"/>
<rect x="131.16" y="185.08" width="2.35" height="2.12" rx="0.8" fill="#11aa33"/>
<rect x="130.93" y="187.63" width="2.35" height="1.66" rx="0.8" fill="#11aa33"/>
<rect x="130.72" y="189.88" width="2.35" height="1.7" rx="0.8" fill="#11aa33"/>
<rect x="130.54" y="191.93" width="2.35" height="2.51" rx="0.8" fill="#22cc44"/>
<rect x="130.28" y="194.78" width="2.35" height="1.73" rx="0.8" fill="#e8d020"/>
<rect x="135.1" y="175.86" width="2.35" height="2.28" rx="0.8" fill="#11aa33"/>
<rect x="134.86" y="178.53" width="2.35" height="2.14" rx="0.8" fill="#3355dd"/>
<rect x="134.63" y="181.11" width="2.35" height="2.3" rx="0.8" fill="#22cc44"/>
<rect x="134.39" y="183.76" width="2.35" height="2.4" rx="0.8" fill="#22cc44"/>
<rect x="134.14" y="186.56" width="2.35" height="1.67" rx="0.8" fill="#22cc44"/>
<rect x="133.94" y="188.7" width="2.35" height="2.4" rx="0.8" fill="#22cc44"/>
<rect x="133.69" y="191.57" width="2.35" height="1.82" rx="0.8" fill="#11aa33"/>
<rect x="133.47" y="193.94" width="2.35" height="2.05" rx="0.8" fill="#dd2a1a"/>
<rect x="138.15" y="176.57" width="2.35" height="2.02" rx="0.8" fill="#11aa33"/>
<rect x="137.93" y="179.06" width="2.35" height="1.64" rx="0.8" fill="#11aa33"/>
<rect x="137.73" y="181.28" width="2.35" height="2.57" rx="0.8" fill="#11aa33"/>
<rect x="137.47" y="184.12" width="2.35" height="1.8" rx="0.8" fill="#11aa33"/>
<rect x="137.27" y="186.39" width="2.35" height="2.13" rx="0.8" fill="#22cc44"/>
<rect x="137.04" y="188.87" width="2.35" height="2.1" rx="0.8" fill="#22cc44"/>
<rect x="136.82" y="191.32" width="2.35" height="2.4" rx="0.8" fill="#11aa33"/>
<rect x="136.58" y="193.98" width="2.35" height="1.62" rx="0.8" fill="#3355dd"/>
<rect x="136.4" y="196.05" width="2.35" height="1.79" rx="0.8" fill="#f08a10"/>
<rect x="141.2" y="177.29" width="2.35" height="2.05" rx="0.8" fill="#e8d020"/>
<rect x="140.97" y="179.82" width="2.35" height="2.15" rx="0.8" fill="#dd2a1a"/>
<rect x="140.73" y="182.55" width="2.35" height="1.91" rx="0.8" fill="#22cc44"/>
<rect x="140.5" y="185.05" width="2.35" height="1.94" rx="0.8" fill="#22cc44"/>
<rect x="140.29" y="187.39" width="2.35" height="1.95" rx="0.8" fill="#22cc44"/>
<rect x="140.07" y="189.88" width="2.35" height="1.61" rx="0.8" fill="#11aa33"/>
<rect x="139.89" y="191.89" width="2.35" height="1.66" rx="0.8" fill="#dd2a1a"/>
<rect x="139.69" y="194.1" width="2.35" height="2.27" rx="0.8" fill="#11aa33"/>
<rect x="139.44" y="196.84" width="2.35" height="2.29" rx="0.8" fill="#22cc44"/>
<rect x="144.25" y="178.01" width="2.35" height="1.76" rx="0.8" fill="#e8d020"/>
<rect x="144.07" y="180.02" width="2.35" height="1.96" rx="0.8" fill="#dd2a1a"/>
<rect x="143.84" y="182.57" width="2.35" height="2.15" rx="0.8" fill="#11aa33"/>
<rect x="143.62" y="184.98" width="2.35" height="2.48" rx="0.8" fill="#22cc44"/>
<rect x="143.37" y="187.84" width="2.35" height="1.6" rx="0.8" fill="#dd2a1a"/>
<rect x="143.2" y="189.72" width="2.35" height="1.88" rx="0.8" fill="#22cc44"/>
<rect x="143" y="191.93" width="2.35" height="2.38" rx="0.8" fill="#22cc44"/>
<rect x="142.75" y="194.65" width="2.35" height="1.69" rx="0.8" fill="#dd2a1a"/>
<rect x="142.56" y="196.8" width="2.35" height="1.99" rx="0.8" fill="#11aa33"/>
<rect x="147.3" y="178.72" width="2.35" height="1.83" rx="0.8" fill="#3355dd"/>
<rect x="147.09" y="181.11" width="2.35" height="1.76" rx="0.8" fill="#dd2a1a"/>
<rect x="146.88" y="183.38" width="2.35" height="2.32" rx="0.8" fill="#f08a10"/>
<rect x="146.65" y="186" width="2.35" height="2.32" rx="0.8" fill="#22cc44"/>
<rect x="146.41" y="188.59" width="2.35" height="2.44" rx="0.8" fill="#3355dd"/>
<rect x="146.15" y="191.5" width="2.35" height="2.33" rx="0.8" fill="#3355dd"/>
<rect x="145.91" y="194.13" width="2.35" height="2.12" rx="0.8" fill="#3355dd"/>
<rect x="145.68" y="196.7" width="2.35" height="2.41" rx="0.8" fill="#22cc44"/>
<rect x="150.35" y="179.44" width="2.35" height="2.18" rx="0.8" fill="#11aa33"/>
<rect x="150.13" y="181.91" width="2.35" height="1.64" rx="0.8" fill="#dd2a1a"/>
<rect x="149.93" y="184.13" width="2.35" height="1.98" rx="0.8" fill="#e8d020"/>
<rect x="149.71" y="186.55" width="2.35" height="2.23" rx="0.8" fill="#8833bb"/>
<rect x="149.47" y="189.27" width="2.35" height="2.09" rx="0.8" fill="#22cc44"/>
<rect x="149.24" y="191.77" width="2.35" height="1.67" rx="0.8" fill="#3355dd"/>
<rect x="149.04" y="194" width="2.35" height="1.69" rx="0.8" fill="#3355dd"/>
<rect x="148.86" y="195.97" width="2.35" height="2.34" rx="0.8" fill="#11aa33"/>
<rect x="148.6" y="198.84" width="2.35" height="2.45" rx="0.8" fill="#11aa33"/>
<rect x="153.4" y="180.16" width="2.35" height="1.81" rx="0.8" fill="#e8d020"/>
<rect x="153.2" y="182.39" width="2.35" height="1.98" rx="0.8" fill="#f08a10"/>
<rect x="152.97" y="184.94" width="2.35" height="1.89" rx="0.8" fill="#22cc44"/>
<rect x="152.76" y="187.29" width="2.35" height="2.24" rx="0.8" fill="#22cc44"/>
<rect x="152.51" y="189.99" width="2.35" height="1.93" rx="0.8" fill="#11aa33"/>
<rect x="152.3" y="192.39" width="2.35" height="1.73" rx="0.8" fill="#f08a10"/>
<rect x="152.12" y="194.4" width="2.35" height="1.87" rx="0.8" fill="#22cc44"/>
<rect x="151.91" y="196.76" width="2.35" height="2.28" rx="0.8" fill="#11aa33"/>
<rect x="151.66" y="199.53" width="2.35" height="1.89" rx="0.8" fill="#e8d020"/>
<rect x="156.45" y="180.87" width="2.35" height="1.72" rx="0.8" fill="#8833bb"/>
<rect x="156.27" y="182.91" width="2.35" height="2.58" rx="0.8" fill="#f08a10"/>
<rect x="156.01" y="185.75" width="2.35" height="2.06" rx="0.8" fill="#3355dd"/>
<rect x="155.77" y="188.4" width="2.35" height="2.05" rx="0.8" fill="#11aa33"/>
<rect x="155.55" y="190.83" width="2.35" height="2.52" rx="0.8" fill="#22cc44"/>
<rect x="155.3" y="193.62" width="2.35" height="1.69" rx="0.8" fill="#3355dd"/>
<rect x="155.12" y="195.65" width="2.35" height="1.96" rx="0.8" fill="#3355dd"/>
<rect x="154.91" y="197.96" width="2.35" height="1.71" rx="0.8" fill="#dd2a1a"/>
<rect x="154.73" y="200.01" width="2.35" height="2.5" rx="0.8" fill="#f08a10"/>
<rect x="159.5" y="181.59" width="2.35" height="1.76" rx="0.8" fill="#f08a10"/>
<rect x="159.3" y="183.84" width="2.35" height="2.01" rx="0.8" fill="#22cc44"/>
<rect x="159.08" y="186.24" width="2.35" height="1.98" rx="0.8" fill="#22cc44"/>
<rect x="158.85" y="188.76" width="2.35" height="1.6" rx="0.8" fill="#dd2a1a"/>
<rect x="158.66" y="190.91" width="2.35" height="1.72" rx="0.8" fill="#22cc44"/>
<rect x="158.46" y="193.13" width="2.35" height="2.5" rx="0.8" fill="#11aa33"/>
<rect x="158.21" y="195.97" width="2.35" height="1.66" rx="0.8" fill="#dd2a1a"/>
<rect x="158" y="198.23" width="2.35" height="2.19" rx="0.8" fill="#dd2a1a"/>
<rect x="157.75" y="200.99" width="2.35" height="2.36" rx="0.8" fill="#22cc44"/>
</g>
</g>
<path d="M33.3 177.3 L87.3 142.4 L223.2 175.9 L169.2 210.8 Z" fill="none" stroke="#5b9bd5" stroke-width="1.4" stroke-linejoin="miter"/>
<path d="M33.3 149 L87.3 114.1 L223.2 147.6 L169.2 182.5 Z" fill="#cc1b0c"/>
<g clip-path="url(#cl4)">
<defs><linearGradient id="bg1" x1="0" y1="0" x2="1" y2="0"><stop offset="0" stop-color="#f07ee0"/><stop offset="0.14" stop-color="#c080f0"/><stop offset="0.26" stop-color="#6a90f0"/><stop offset="0.38" stop-color="#70d8e8"/><stop offset="0.5" stop-color="#e04848"/><stop offset="0.68" stop-color="#e83030"/><stop offset="0.8" stop-color="#f0a8a8"/><stop offset="0.9" stop-color="#f0d0c8"/><stop offset="1" stop-color="#e03030"/></linearGradient></defs>
<path d="M95.6 128 L153 138 L153 163 L93.6 152.2 Z" fill="url(#bg1)"/>
<path d="M98.72 145.92 l3.9 3.45" stroke="#3a60e0" stroke-width="1" opacity="0.8"/>
<path d="M111.59 141.85 l2.95 5.32" stroke="#3a60e0" stroke-width="1" opacity="0.8"/>
<path d="M108.99 141.7 l2.09 5.28" stroke="#3a60e0" stroke-width="1" opacity="0.8"/>
<path d="M103.6 149.76 l3.66 3.61" stroke="#3a60e0" stroke-width="1" opacity="0.8"/>
<path d="M99.13 150.8 l3.23 4.84" stroke="#3a60e0" stroke-width="1" opacity="0.8"/>
<path d="M99.94 149.65 l3.46 5.74" stroke="#3a60e0" stroke-width="1" opacity="0.8"/>
<path d="M105.7 137.07 l3.24 3.85" stroke="#3a60e0" stroke-width="1" opacity="0.8"/>
<path d="M101.58 147.3 l3.96 4.22" stroke="#3a60e0" stroke-width="1" opacity="0.8"/>
<path d="M101.34 142.7 l4.01 3.36" stroke="#3a60e0" stroke-width="1" opacity="0.8"/>
<path d="M107 135.35 l3.5 5.44" stroke="#3a60e0" stroke-width="1" opacity="0.8"/>
<path d="M105.71 142.15 l3 5.28" stroke="#3a60e0" stroke-width="1" opacity="0.8"/>
<path d="M103.98 143.86 l2.73 3.52" stroke="#3a60e0" stroke-width="1" opacity="0.8"/>
<path d="M105.78 139.75 l3.1 5.43" stroke="#3a60e0" stroke-width="1" opacity="0.8"/>
<path d="M100.83 134.36 l4.61 4.15" stroke="#3a60e0" stroke-width="1" opacity="0.8"/>
<path d="M141.56 141.46 q-0.97 -2.63 -1.78 2.81" fill="none" stroke="#ffffff" stroke-width="0.8" stroke-linecap="round" opacity="0.9"/>
<path d="M130.65 152.37 q-2.44 2.38 -0.92 0.87" fill="none" stroke="#d01010" stroke-width="1.05" stroke-linecap="round" opacity="0.9"/>
<path d="M122.04 157.17 q-2.24 -0.45 2.11 1.83" fill="none" stroke="#ffe040" stroke-width="1.47" stroke-linecap="round" opacity="0.9"/>
<path d="M130.04 137.9 q2.13 2.83 -2.01 -2.35" fill="none" stroke="#ff2828" stroke-width="0.82" stroke-linecap="round" opacity="0.9"/>
<path d="M131.51 153.73 q-2.49 1.66 -3.99 -2.25" fill="none" stroke="#30c0a0" stroke-width="1.16" stroke-linecap="round" opacity="0.9"/>
<path d="M109.69 154.59 q0.76 0.17 -0.5 1.58" fill="none" stroke="#ff3030" stroke-width="0.78" stroke-linecap="round" opacity="0.9"/>
<path d="M121.52 160.53 q-0.67 -1.66 0.81 -2.94" fill="none" stroke="#d01010" stroke-width="0.94" stroke-linecap="round" opacity="0.9"/>
<path d="M128.73 160.93 q-0.15 -1.59 -2.02 2.76" fill="none" stroke="#d01010" stroke-width="1.26" stroke-linecap="round" opacity="0.9"/>
<path d="M121.83 136.57 q2.31 0.88 -3.35 -1.63" fill="none" stroke="#30c0a0" stroke-width="1.04" stroke-linecap="round" opacity="0.9"/>
<path d="M124.66 148.82 q1.31 -0.83 -0.83 -2.96" fill="none" stroke="#ffd000" stroke-width="0.93" stroke-linecap="round" opacity="0.9"/>
<path d="M146.03 137.75 q2.82 -1.13 2.56 -1.62" fill="none" stroke="#30c0a0" stroke-width="0.88" stroke-linecap="round" opacity="0.9"/>
<path d="M142.22 143.67 q0.66 2.38 -0.12 2.46" fill="none" stroke="#30c0a0" stroke-width="0.75" stroke-linecap="round" opacity="0.9"/>
<path d="M134.77 159.97 q-1.72 2.84 -2.86 -2.69" fill="none" stroke="#ffe040" stroke-width="0.75" stroke-linecap="round" opacity="0.9"/>
<path d="M125.7 159.35 q1.4 2.99 3.45 -1.02" fill="none" stroke="#ffd000" stroke-width="0.85" stroke-linecap="round" opacity="0.9"/>
<path d="M150.11 155.4 q-1.13 1.35 2.71 2.91" fill="none" stroke="#ffe040" stroke-width="1.05" stroke-linecap="round" opacity="0.9"/>
<path d="M112.9 138.03 q-0.89 2.73 -3.01 2.79" fill="none" stroke="#ff2020" stroke-width="0.87" stroke-linecap="round" opacity="0.9"/>
<path d="M124.05 157.36 q-2.47 1.23 -2.43 0.25" fill="none" stroke="#ff5050" stroke-width="1.06" stroke-linecap="round" opacity="0.9"/>
<path d="M122.55 155.17 q-2.82 -0.54 2.49 1.6" fill="none" stroke="#30c0a0" stroke-width="0.73" stroke-linecap="round" opacity="0.9"/>
<path d="M109.57 137.63 q-1.46 1.48 3.19 -0.97" fill="none" stroke="#ffe040" stroke-width="0.92" stroke-linecap="round" opacity="0.9"/>
<path d="M151.1 152.04 q1.48 1.14 3.39 -1.22" fill="none" stroke="#ffffff" stroke-width="1.28" stroke-linecap="round" opacity="0.9"/>
<path d="M134.8 156.95 q-2.85 -1.6 -0.2 2.74" fill="none" stroke="#ff2020" stroke-width="1.46" stroke-linecap="round" opacity="0.9"/>
<path d="M125.39 142.53 q1.89 -2.2 -0.03 -2.95" fill="none" stroke="#ff5050" stroke-width="1.44" stroke-linecap="round" opacity="0.9"/>
<path d="M121.65 153.99 q0.64 -1.03 -1.44 -0.83" fill="none" stroke="#ff3030" stroke-width="1.33" stroke-linecap="round" opacity="0.9"/>
<path d="M111.56 141.13 q-1.52 -2.61 -3.73 0.32" fill="none" stroke="#ff3030" stroke-width="0.96" stroke-linecap="round" opacity="0.9"/>
<path d="M152.11 158.97 q-1.41 -2.5 -3.23 -0.01" fill="none" stroke="#ff2020" stroke-width="1.27" stroke-linecap="round" opacity="0.9"/>
<path d="M128.11 142.09 q-0.23 2.35 -2.12 0.23" fill="none" stroke="#ff5050" stroke-width="1.32" stroke-linecap="round" opacity="0.9"/>
<path d="M142.18 156.27 q-1.24 0.4 -1.02 1.43" fill="none" stroke="#ffffff" stroke-width="0.86" stroke-linecap="round" opacity="0.9"/>
<path d="M119.13 142.38 q-1.31 2.45 -2.49 -2.61" fill="none" stroke="#ff3030" stroke-width="0.9" stroke-linecap="round" opacity="0.9"/>
<path d="M119.07 149.68 q0.92 2.95 -3.18 -0.15" fill="none" stroke="#ff2020" stroke-width="1.36" stroke-linecap="round" opacity="0.9"/>
<path d="M145.83 159.77 q2.26 -1.6 -3.6 0.6" fill="none" stroke="#ffe040" stroke-width="1.36" stroke-linecap="round" opacity="0.9"/>
<path d="M116.74 137.95 q2.2 -0.31 -1.92 1.67" fill="none" stroke="#ff2828" stroke-width="1.46" stroke-linecap="round" opacity="0.9"/>
<path d="M112.76 151.5 q-1.69 -0.79 -2.87 -1.78" fill="none" stroke="#ffd000" stroke-width="0.9" stroke-linecap="round" opacity="0.9"/>
<path d="M134.97 152.94 q1.89 1.91 -0.73 -0.77" fill="none" stroke="#d01010" stroke-width="1.2" stroke-linecap="round" opacity="0.9"/>
<path d="M111.51 136.82 q0.29 -2.62 -3.19 -0.63" fill="none" stroke="#30c0a0" stroke-width="1.14" stroke-linecap="round" opacity="0.9"/>
<path d="M136.76 138.37 q-0.61 -1.37 3.91 1.01" fill="none" stroke="#ff3030" stroke-width="1.03" stroke-linecap="round" opacity="0.9"/>
<path d="M110.31 155.38 q-0.52 -2.89 2.13 1.81" fill="none" stroke="#ffd000" stroke-width="1.22" stroke-linecap="round" opacity="0.9"/>
<path d="M125.58 146.53 q-0.4 -2.06 -3.09 -2.46" fill="none" stroke="#ffe040" stroke-width="1.16" stroke-linecap="round" opacity="0.9"/>
<path d="M124.41 156.1 q-2.91 0.31 1.13 2.46" fill="none" stroke="#ff3030" stroke-width="0.77" stroke-linecap="round" opacity="0.9"/>
<path d="M136 145.64 q-1.97 -0.91 -2.71 -1.97" fill="none" stroke="#ff2828" stroke-width="0.75" stroke-linecap="round" opacity="0.9"/>
<path d="M125.27 155.59 q-1.19 2.02 -3.65 2.48" fill="none" stroke="#d01010" stroke-width="0.95" stroke-linecap="round" opacity="0.9"/>
<path d="M135.34 152.55 q2.43 0.72 2.6 -2.04" fill="none" stroke="#ff2020" stroke-width="1.33" stroke-linecap="round" opacity="0.9"/>
<path d="M117.99 146.52 q1.98 -1.9 -2.25 -0.6" fill="none" stroke="#d01010" stroke-width="1.11" stroke-linecap="round" opacity="0.9"/>
<path d="M125.26 139.2 q2.82 1.89 -2.46 2.3" fill="none" stroke="#d01010" stroke-width="1.37" stroke-linecap="round" opacity="0.9"/>
<path d="M138.25 153.37 q-2.29 0.6 0.4 0.76" fill="none" stroke="#ffd000" stroke-width="0.94" stroke-linecap="round" opacity="0.9"/>
<path d="M126.9 151.15 q-0.66 -0.8 0.03 -1.93" fill="none" stroke="#ff5050" stroke-width="0.7" stroke-linecap="round" opacity="0.9"/>
<path d="M152.38 148.1 q1.58 1.68 -0.33 -1.92" fill="none" stroke="#30c0a0" stroke-width="1.08" stroke-linecap="round" opacity="0.9"/>
<path d="M112.82 139.34 q-0.81 1.81 0.03 0.94" fill="none" stroke="#ff5050" stroke-width="0.73" stroke-linecap="round" opacity="0.9"/>
<path d="M113.86 159.98 q1.67 0.07 -3.57 0.02" fill="none" stroke="#ffd000" stroke-width="1" stroke-linecap="round" opacity="0.9"/>
<path d="M150.79 139.54 q2.98 1.39 2.52 -1.84" fill="none" stroke="#ff2020" stroke-width="1.49" stroke-linecap="round" opacity="0.9"/>
<path d="M130.13 160.87 q1.12 1.33 -2.23 2" fill="none" stroke="#ff3030" stroke-width="1.19" stroke-linecap="round" opacity="0.9"/>
<path d="M119.35 144.42 q2.43 -0.26 -1.97 2.79" fill="none" stroke="#ffffff" stroke-width="1.08" stroke-linecap="round" opacity="0.9"/>
<path d="M134.63 152.01 q-1.09 -2.78 -2.54 -2.03" fill="none" stroke="#d01010" stroke-width="1.45" stroke-linecap="round" opacity="0.9"/>
<path d="M138.59 159.28 q1.75 -1.41 2.15 -2.71" fill="none" stroke="#ff3030" stroke-width="1.39" stroke-linecap="round" opacity="0.9"/>
<path d="M151.48 147.78 q0.48 2.3 -3.16 2.96" fill="none" stroke="#ff2828" stroke-width="1.2" stroke-linecap="round" opacity="0.9"/>
<path d="M125.74 156.74 q-0.75 -0.79 -2.83 -1.02" fill="none" stroke="#ffffff" stroke-width="0.77" stroke-linecap="round" opacity="0.9"/>
<path d="M118.35 152 q-1.22 0.1 -1.52 2.8" fill="none" stroke="#ffe040" stroke-width="1.4" stroke-linecap="round" opacity="0.9"/>
<path d="M149.78 159.29 q1.48 -1.67 -1.67 0.75" fill="none" stroke="#ffe040" stroke-width="1.03" stroke-linecap="round" opacity="0.9"/>
<path d="M124.38 137.24 q-1.64 0.92 -3.82 -2.98" fill="none" stroke="#30c0a0" stroke-width="0.98" stroke-linecap="round" opacity="0.9"/>
<path d="M112.79 145.29 q-0.52 -1.19 -2.93 -0.8" fill="none" stroke="#d01010" stroke-width="1.36" stroke-linecap="round" opacity="0.9"/>
<path d="M115.14 136.37 q1.24 -0.29 -3.49 -2.13" fill="none" stroke="#d01010" stroke-width="1.23" stroke-linecap="round" opacity="0.9"/>
<path d="M120.14 157.1 q-2.66 1.93 3.14 0.57" fill="none" stroke="#ffe040" stroke-width="1.16" stroke-linecap="round" opacity="0.9"/>
<path d="M135.08 149.46 q-1.51 2.42 -3.65 0.19" fill="none" stroke="#30c0a0" stroke-width="1.02" stroke-linecap="round" opacity="0.9"/>
<path d="M118.7 137.52 q-2.93 0.31 3.53 -2.15" fill="none" stroke="#ff2020" stroke-width="0.86" stroke-linecap="round" opacity="0.9"/>
<path d="M135.36 149.18 q1.88 -1.95 -1.52 -1.2" fill="none" stroke="#ff5050" stroke-width="0.74" stroke-linecap="round" opacity="0.9"/>
<path d="M148.02 156.36 q-2.96 2.07 1.96 -0.21" fill="none" stroke="#ff2828" stroke-width="1.29" stroke-linecap="round" opacity="0.9"/>
<path d="M128.36 141.87 q-1.43 0.86 -3.01 2.35" fill="none" stroke="#ff2020" stroke-width="1.44" stroke-linecap="round" opacity="0.9"/>
<path d="M150.43 142.85 q-1.4 0.32 -0.51 1.73" fill="none" stroke="#ffe040" stroke-width="1.12" stroke-linecap="round" opacity="0.9"/>
<path d="M119.94 152.69 q-2.49 0.04 -2.64 2.43" fill="none" stroke="#d01010" stroke-width="1.37" stroke-linecap="round" opacity="0.9"/>
<path d="M117.12 140.14 q-1.85 -0.67 0.81 -0.72" fill="none" stroke="#ffd000" stroke-width="1.38" stroke-linecap="round" opacity="0.9"/>
<path d="M149.48 161.52 q-0.18 2.04 1.58 2.15" fill="none" stroke="#ff2828" stroke-width="1.05" stroke-linecap="round" opacity="0.9"/>
<path d="M140.61 150.83 q1.74 -0.65 0.68 0.39" fill="none" stroke="#ffffff" stroke-width="0.84" stroke-linecap="round" opacity="0.9"/>
<path d="M109.48 138.91 q-0.93 -2.15 -3.77 -2.75" fill="none" stroke="#ff3030" stroke-width="1.25" stroke-linecap="round" opacity="0.9"/>
<path d="M136.52 154.12 q-2.61 0.54 -1.09 1.91" fill="none" stroke="#ffe040" stroke-width="1.36" stroke-linecap="round" opacity="0.9"/>
<path d="M148.11 137.71 q-2.36 -1.77 -3.1 -2.79" fill="none" stroke="#ff5050" stroke-width="1.38" stroke-linecap="round" opacity="0.9"/>
<path d="M144.54 152.49 q-0.14 -2.2 2.34 0.88" fill="none" stroke="#ffffff" stroke-width="0.94" stroke-linecap="round" opacity="0.9"/>
<path d="M123.14 142.79 q-1.46 -1.3 1.73 -0.79" fill="none" stroke="#ffd000" stroke-width="0.96" stroke-linecap="round" opacity="0.9"/>
<path d="M151.38 149.1 q0.71 -2.81 -0.7 -0.38" fill="none" stroke="#ffffff" stroke-width="1.32" stroke-linecap="round" opacity="0.9"/>
<path d="M123.61 154.32 q0.4 1.29 2.62 0.45" fill="none" stroke="#ff2828" stroke-width="0.93" stroke-linecap="round" opacity="0.9"/>
<path d="M127.62 149.61 q1.57 2.87 -3.97 -0.06" fill="none" stroke="#ffffff" stroke-width="1.09" stroke-linecap="round" opacity="0.9"/>
<path d="M143.85 140.8 q0.56 2.74 0.12 0.47" fill="none" stroke="#30c0a0" stroke-width="0.83" stroke-linecap="round" opacity="0.9"/>
<path d="M144.69 160.4 q-0.01 -2.34 1.09 -2.51" fill="none" stroke="#d01010" stroke-width="1.33" stroke-linecap="round" opacity="0.9"/>
<path d="M139.37 156.46 q-0.87 -0.59 -0.84 2.34" fill="none" stroke="#ffd000" stroke-width="0.77" stroke-linecap="round" opacity="0.9"/>
<path d="M147.98 136.65 q-1.18 -0.43 0.36 -1.97" fill="none" stroke="#d01010" stroke-width="1.49" stroke-linecap="round" opacity="0.9"/>
<path d="M136.38 160.54 q0.19 1.53 2.02 0.88" fill="none" stroke="#ff3030" stroke-width="0.98" stroke-linecap="round" opacity="0.9"/>
<path d="M122.7 140.04 q0.97 1.45 -2.64 -0.37" fill="none" stroke="#30c0a0" stroke-width="1.32" stroke-linecap="round" opacity="0.9"/>
<path d="M134.06 139.28 q0.86 1.18 0.06 -1.4" fill="none" stroke="#30c0a0" stroke-width="1.3" stroke-linecap="round" opacity="0.9"/>
<path d="M145.19 152.05 q2.85 1.34 0.82 -0.91" fill="none" stroke="#ff3030" stroke-width="0.89" stroke-linecap="round" opacity="0.9"/>
<path d="M151.01 142.73 q-2.01 0.95 -2.44 -2.09" fill="none" stroke="#ff2020" stroke-width="0.82" stroke-linecap="round" opacity="0.9"/>
<path d="M121.59 143.73 q-1.82 0.83 -3.15 -1.76" fill="none" stroke="#ffffff" stroke-width="1.01" stroke-linecap="round" opacity="0.9"/>
<path d="M109.53 146.37 q1.16 0 1.06 -0.22" fill="none" stroke="#ff5050" stroke-width="0.81" stroke-linecap="round" opacity="0.9"/>
</g>
<text transform="translate(48.4,151.2) rotate(12.3) skewX(-4.5)" class="a" font-size="11.8" fill="#fff" stroke="#fff" stroke-width="0.25">UCH-L1</text>
<text transform="translate(153,169.2) rotate(11) skewX(-4.5)" class="a" font-size="12.0" fill="#fff" stroke="#fff" stroke-width="0.25">GFAP</text>
<text transform="translate(179.6,155.9) rotate(13.3) skewX(-4.5)" class="a" font-size="6.9" fill="#fff" stroke="#fff" stroke-width="0.25">S100B</text>
<path d="M33.3 149 L87.3 114.1 L223.2 147.6 L169.2 182.5 Z" fill="none" stroke="#5b9bd5" stroke-width="1.4"/>
<path d="M33.3 120.7 L87.3 85.8 L223.2 119.3 L169.2 154.2 Z" fill="#fff"/>
<path d="M33.3 120.7 L87.3 85.8 L223.2 119.3 L169.2 154.2 Z" fill="none" stroke="#5b9bd5" stroke-width="1.4"/>
<text transform="translate(68.4,114.1) rotate(12.5) skewX(-5)" class="a" font-size="12.1" fill="#111" stroke="#111" stroke-width="0.25">Agitated</text>
<text transform="translate(45.5,124.1) rotate(12.5) skewX(-5)" class="a" font-size="12.1" fill="#111" stroke="#111" stroke-width="0.25">EtOH &gt; 300</text>
<text transform="translate(121.8,133.2) rotate(12.5) skewX(-5)" class="a" font-size="12.1" fill="#111" stroke="#111" stroke-width="0.25">Na = 128</text>
<text transform="translate(170.5,121.2) rotate(12.5) skewX(-5)" class="a" font-size="12.1" fill="#111" stroke="#111" stroke-width="0.25">mmHg</text>
<path d="M33.3 92.4 L87.3 57.5 L223.2 91 L169.2 125.9 Z" fill="#000"/>
<g clip-path="url(#cl2)">
<defs><radialGradient id="mri" cx="0.5" cy="0.55" r="0.55"><stop offset="0" stop-color="#d8d8d8"/><stop offset="0.6" stop-color="#cacaca"/><stop offset="0.88" stop-color="#b0b0b0"/><stop offset="1" stop-color="#707070"/></radialGradient><radialGradient id="pet" cx="0.5" cy="0.5" r="0.5"><stop offset="0" stop-color="#4060d0"/><stop offset="0.35" stop-color="#40b070"/><stop offset="0.6" stop-color="#50d040"/><stop offset="0.78" stop-color="#a0e040"/><stop offset="0.9" stop-color="#7030b0"/><stop offset="1" stop-color="#401870"/></radialGradient></defs>
<path d="M84.5 87.5 C83 83.5 80.5 81 77 80.8 C73.5 80.8 71.2 84 70.9 88.5 C70.6 93 71.2 98.5 74 102 C77 105 82 105.8 87.5 105.5 C93 105.2 97.5 103.5 99.6 99 C101 95 100.8 90 99 87.5 C97.5 85.3 94.5 84.8 92 85.5 C89.5 86.3 87 88.2 84.5 87.5 Z" fill="url(#mri)"/>
<circle cx="88.09" cy="91.69" r="1.23" fill="rgb(181,181,181)" opacity="0.8"/>
<circle cx="83.75" cy="94.91" r="0.84" fill="rgb(232,232,232)" opacity="0.8"/>
<circle cx="78.71" cy="97.72" r="1.06" fill="rgb(232,232,232)" opacity="0.8"/>
<circle cx="94.31" cy="96.91" r="0.6" fill="rgb(232,232,232)" opacity="0.8"/>
<circle cx="83.81" cy="88.94" r="1.22" fill="rgb(162,162,162)" opacity="0.8"/>
<circle cx="79.06" cy="91.6" r="0.63" fill="rgb(230,230,230)" opacity="0.8"/>
<circle cx="94.24" cy="93.17" r="1" fill="rgb(152,152,152)" opacity="0.8"/>
<circle cx="83.23" cy="96.83" r="1.22" fill="rgb(173,173,173)" opacity="0.8"/>
<circle cx="81.2" cy="84.2" r="1.23" fill="rgb(212,212,212)" opacity="0.8"/>
<circle cx="75.66" cy="88.77" r="0.63" fill="rgb(177,177,177)" opacity="0.8"/>
<circle cx="92.54" cy="101.87" r="0.78" fill="rgb(216,216,216)" opacity="0.8"/>
<circle cx="94.18" cy="92.68" r="1.07" fill="rgb(176,176,176)" opacity="0.8"/>
<circle cx="85.8" cy="96.15" r="0.92" fill="rgb(197,197,197)" opacity="0.8"/>
<circle cx="83.26" cy="102.01" r="1.29" fill="rgb(176,176,176)" opacity="0.8"/>
<circle cx="77.6" cy="93.76" r="1.08" fill="rgb(165,165,165)" opacity="0.8"/>
<circle cx="88.35" cy="96.11" r="0.72" fill="rgb(182,182,182)" opacity="0.8"/>
<circle cx="82.99" cy="84.25" r="1.23" fill="rgb(203,203,203)" opacity="0.8"/>
<circle cx="88.71" cy="96.82" r="0.71" fill="rgb(224,224,224)" opacity="0.8"/>
<circle cx="78.61" cy="98.09" r="1.28" fill="rgb(217,217,217)" opacity="0.8"/>
<circle cx="97.86" cy="102.26" r="0.67" fill="rgb(209,209,209)" opacity="0.8"/>
<circle cx="76.23" cy="98.76" r="0.65" fill="rgb(231,231,231)" opacity="0.8"/>
<circle cx="89.05" cy="97.69" r="0.78" fill="rgb(168,168,168)" opacity="0.8"/>
<circle cx="88.97" cy="99.56" r="0.87" fill="rgb(202,202,202)" opacity="0.8"/>
<circle cx="80.36" cy="94.42" r="1.12" fill="rgb(166,166,166)" opacity="0.8"/>
<circle cx="84.74" cy="98.89" r="0.71" fill="rgb(179,179,179)" opacity="0.8"/>
<circle cx="82.4" cy="88.82" r="1.04" fill="rgb(204,204,204)" opacity="0.8"/>
<circle cx="85.04" cy="99.3" r="0.79" fill="rgb(185,185,185)" opacity="0.8"/>
<circle cx="89.36" cy="90.09" r="0.84" fill="rgb(212,212,212)" opacity="0.8"/>
<circle cx="88.93" cy="96.53" r="0.62" fill="rgb(196,196,196)" opacity="0.8"/>
<circle cx="80.58" cy="91.32" r="1.16" fill="rgb(160,160,160)" opacity="0.8"/>
<circle cx="95.65" cy="98.9" r="0.92" fill="rgb(167,167,167)" opacity="0.8"/>
<circle cx="81.63" cy="95.07" r="0.51" fill="rgb(234,234,234)" opacity="0.8"/>
<circle cx="96.79" cy="96.46" r="0.99" fill="rgb(182,182,182)" opacity="0.8"/>
<circle cx="87.46" cy="100.23" r="1.12" fill="rgb(173,173,173)" opacity="0.8"/>
<circle cx="81.66" cy="86.9" r="1.13" fill="rgb(201,201,201)" opacity="0.8"/>
<circle cx="77.2" cy="100.93" r="1.28" fill="rgb(227,227,227)" opacity="0.8"/>
<circle cx="75.26" cy="101.13" r="1.13" fill="rgb(220,220,220)" opacity="0.8"/>
<circle cx="93.97" cy="87.75" r="0.92" fill="rgb(177,177,177)" opacity="0.8"/>
<circle cx="91.55" cy="92.33" r="0.94" fill="rgb(164,164,164)" opacity="0.8"/>
<circle cx="79.61" cy="88.45" r="0.88" fill="rgb(167,167,167)" opacity="0.8"/>
<path d="M82.5 89 C84 91 86.5 91 87.5 89.5" stroke="#f0f0f0" stroke-width="1.2" fill="none"/>
<ellipse cx="137.3" cy="101.4" rx="13.6" ry="12.4" fill="#46c046" stroke="#7a30b0" stroke-width="1.1" stroke-dasharray="1 0.6"/>
<circle cx="128.25" cy="98.31" r="1.09" fill="#a8dc3c"/>
<circle cx="137.47" cy="108.67" r="1.2" fill="#30b060"/>
<circle cx="148.81" cy="101.83" r="1.09" fill="#60d050"/>
<circle cx="128.61" cy="101.52" r="0.86" fill="#60d050"/>
<circle cx="126.7" cy="106.78" r="0.73" fill="#c8e040"/>
<circle cx="130.58" cy="108.74" r="1.03" fill="#c8e040"/>
<circle cx="132.37" cy="91.48" r="1.17" fill="#e8e030"/>
<circle cx="145.33" cy="106.29" r="0.62" fill="#a8dc3c"/>
<circle cx="135.23" cy="92.15" r="0.67" fill="#e8e030"/>
<circle cx="132.47" cy="94.59" r="0.99" fill="#30b060"/>
<circle cx="144.65" cy="97.3" r="0.9" fill="#e8e030"/>
<circle cx="126.5" cy="97.94" r="0.85" fill="#e8e030"/>
<circle cx="128.42" cy="101.72" r="1.21" fill="#e8e030"/>
<circle cx="132.69" cy="107.57" r="1.15" fill="#60d050"/>
<circle cx="133.02" cy="108.38" r="0.69" fill="#e8e030"/>
<circle cx="144.79" cy="100.22" r="0.88" fill="#c8e040"/>
<circle cx="128.57" cy="98.59" r="0.63" fill="#30b060"/>
<circle cx="135.06" cy="107.6" r="1.18" fill="#a8dc3c"/>
<circle cx="126.3" cy="102.98" r="1.15" fill="#c8e040"/>
<circle cx="146.02" cy="96.37" r="0.7" fill="#30b060"/>
<circle cx="132.35" cy="92.76" r="0.75" fill="#c8e040"/>
<circle cx="132.55" cy="93.9" r="0.67" fill="#a8dc3c"/>
<circle cx="140.37" cy="107.45" r="1.24" fill="#c8e040"/>
<circle cx="132.24" cy="94.57" r="1.15" fill="#a8dc3c"/>
<circle cx="129.45" cy="98.47" r="0.73" fill="#e8e030"/>
<circle cx="144.39" cy="102.81" r="1.05" fill="#30b060"/>
<circle cx="144.1" cy="98.67" r="0.97" fill="#30b060"/>
<circle cx="142.36" cy="92.36" r="1" fill="#60d050"/>
<circle cx="145.56" cy="97.19" r="1.08" fill="#c8e040"/>
<circle cx="127.07" cy="95.18" r="0.93" fill="#a8dc3c"/>
<circle cx="130.75" cy="105.05" r="0.75" fill="#60d050"/>
<circle cx="141.49" cy="106.75" r="0.61" fill="#c8e040"/>
<circle cx="131.34" cy="91.65" r="0.75" fill="#c8e040"/>
<circle cx="144.25" cy="107.42" r="1.1" fill="#e8e030"/>
<circle cx="137.83" cy="111.34" r="1.25" fill="#a8dc3c"/>
<circle cx="129.96" cy="108.88" r="1.11" fill="#a8dc3c"/>
<circle cx="146.29" cy="106.18" r="0.92" fill="#60d050"/>
<circle cx="145.02" cy="98.23" r="1.1" fill="#c8e040"/>
<circle cx="144.51" cy="101.87" r="0.66" fill="#30b060"/>
<circle cx="133.2" cy="110.61" r="1.27" fill="#a8dc3c"/>
<circle cx="142.55" cy="93.34" r="0.86" fill="#e8e030"/>
<circle cx="128.9" cy="97.52" r="0.7" fill="#a8dc3c"/>
<circle cx="139.95" cy="93.56" r="1.04" fill="#a8dc3c"/>
<circle cx="129.33" cy="105.5" r="1.26" fill="#60d050"/>
<circle cx="139.48" cy="92.45" r="0.8" fill="#e8e030"/>
<circle cx="129.7" cy="94.77" r="0.83" fill="#30b060"/>
<circle cx="127.67" cy="94.55" r="1.02" fill="#a8dc3c"/>
<circle cx="133.92" cy="109.34" r="0.86" fill="#a8dc3c"/>
<circle cx="133.21" cy="92.84" r="1.17" fill="#a8dc3c"/>
<circle cx="135.81" cy="107.76" r="0.79" fill="#e8e030"/>
<circle cx="143.87" cy="110.45" r="0.8" fill="#c8e040"/>
<circle cx="144.77" cy="109.67" r="0.7" fill="#30b060"/>
<circle cx="148.46" cy="99.82" r="1.08" fill="#30b060"/>
<circle cx="144.97" cy="97.21" r="0.98" fill="#c8e040"/>
<circle cx="128.21" cy="102.19" r="0.82" fill="#a8dc3c"/>
<circle cx="145.91" cy="104.36" r="1.25" fill="#a8dc3c"/>
<circle cx="131.14" cy="98.03" r="0.92" fill="#60d050"/>
<circle cx="146.97" cy="106.79" r="0.76" fill="#c8e040"/>
<circle cx="126.93" cy="96.26" r="0.82" fill="#30b060"/>
<circle cx="129.11" cy="101.11" r="0.73" fill="#a8dc3c"/>
<circle cx="132" cy="96" r="2.2" fill="#5a3cc0"/>
<circle cx="142.5" cy="96" r="2.2" fill="#5a3cc0"/>
<circle cx="137.3" cy="99" r="1.8" fill="#4050d0"/>
<circle cx="134" cy="101.5" r="1.6" fill="#7040c0"/>
<circle cx="140.5" cy="101.5" r="1.6" fill="#7040c0"/>
<circle cx="137.3" cy="94" r="1.5" fill="#3848c8"/>
<circle cx="131" cy="104" r="1.2" fill="#3050d0"/>
<circle cx="143.5" cy="104" r="1.2" fill="#3050d0"/>
<circle cx="137.3" cy="103.5" r="1.3" fill="#30a0c0"/>
<path d="M133.8 105.8 L137.3 107.6 L140.8 105.8 L140 110.2 L137.3 111.8 L134.6 110.2 Z" fill="#ff8018"/><circle cx="137.3" cy="108.8" r="1.4" fill="#ff3a10"/>
<ellipse cx="173.8" cy="95.5" rx="12.3" ry="8.8" fill="#505050" stroke="#f0f0f0" stroke-width="1.6"/>
<circle cx="167.61" cy="98.41" r="1.06" fill="rgb(86,86,86)"/>
<circle cx="171.18" cy="99.36" r="0.8" fill="rgb(59,59,59)"/>
<circle cx="182.45" cy="95.92" r="0.9" fill="rgb(53,53,53)"/>
<circle cx="173.27" cy="90.98" r="1.08" fill="rgb(80,80,80)"/>
<circle cx="170.9" cy="96.23" r="0.68" fill="rgb(42,42,42)"/>
<circle cx="168.09" cy="100.45" r="0.99" fill="rgb(112,112,112)"/>
<circle cx="175.34" cy="93.14" r="0.94" fill="rgb(75,75,75)"/>
<circle cx="182.93" cy="99.21" r="1.37" fill="rgb(117,117,117)"/>
<circle cx="169.08" cy="90.45" r="1.4" fill="rgb(65,65,65)"/>
<circle cx="171.56" cy="90.33" r="1.05" fill="rgb(44,44,44)"/>
<circle cx="181.41" cy="95.5" r="1.29" fill="rgb(48,48,48)"/>
<circle cx="176.8" cy="101.07" r="0.81" fill="rgb(51,51,51)"/>
<circle cx="175.29" cy="97.69" r="0.91" fill="rgb(104,104,104)"/>
<circle cx="172.97" cy="91.92" r="1.39" fill="rgb(70,70,70)"/>
<circle cx="168.43" cy="90.46" r="1.35" fill="rgb(72,72,72)"/>
<circle cx="165.19" cy="96.63" r="1.27" fill="rgb(43,43,43)"/>
<circle cx="164.94" cy="99.44" r="0.64" fill="rgb(101,101,101)"/>
<circle cx="166.9" cy="99.06" r="1.14" fill="rgb(65,65,65)"/>
<circle cx="169.98" cy="97.1" r="0.98" fill="rgb(53,53,53)"/>
<circle cx="171.43" cy="94.68" r="0.99" fill="rgb(87,87,87)"/>
<circle cx="167.37" cy="92.86" r="1.33" fill="rgb(58,58,58)"/>
<circle cx="181.84" cy="95.61" r="1.24" fill="rgb(64,64,64)"/>
<circle cx="167.14" cy="99.99" r="1.35" fill="rgb(49,49,49)"/>
<circle cx="181.34" cy="100.66" r="1.22" fill="rgb(57,57,57)"/>
<circle cx="183.16" cy="101.11" r="1.27" fill="rgb(89,89,89)"/>
<circle cx="176" cy="98" r="1.3" fill="#555"/>
<path d="M112 88 L116 84.5 L119.5 86 L117 90.5 Z" fill="#2050b0" opacity="0.85"/><path d="M113 85.5 l5 -1.5" stroke="#30c050" stroke-width="1"/>
</g>
<path d="M33.3 92.4 L87.3 57.5 L223.2 91 L169.2 125.9 Z" fill="none" stroke="#5b9bd5" stroke-width="1.4"/>
<path d="M35.1 64.3 L88.6 29.3 L225.1 62.7 L171.6 97.7 Z" fill="#808080"/>
<text transform="translate(99.6,45.4) rotate(12.8) skewX(-6)" class="a" font-size="11.7" fill="#f2f2f2" stroke="#f2f2f2" stroke-width="0.25">Headache</text>
<text transform="translate(162.6,57.1) rotate(12.8) skewX(-6)" class="a" font-size="11.7" fill="#f2f2f2" stroke="#f2f2f2" stroke-width="0.25">Fatigue</text>
<text transform="translate(99.9,58.5) rotate(12.8) skewX(-6)" class="a" font-size="11.7" fill="#f2f2f2" stroke="#f2f2f2" stroke-width="0.25">Depression</text>
<text transform="translate(53.2,63.1) rotate(12.8) skewX(-6)" class="a" font-size="11.7" fill="#f2f2f2" stroke="#f2f2f2" stroke-width="0.25">Memory</text>
<text transform="translate(105,75.8) rotate(12.8) skewX(-6)" class="a" font-size="11.7" fill="#f2f2f2" stroke="#f2f2f2" stroke-width="0.25">Dizziness</text>
<path d="M35.1 64.3 L88.6 29.3 L225.1 62.7 L171.6 97.7 Z" fill="none" stroke="#5b9bd5" stroke-width="1.4"/>
<path d="M353.78 146.18C352.87 146.73 351.88 147.34 350.86 147.85C349.83 148.37 348.75 148.88 347.64 149.29C346.53 149.7 345.4 150.03 344.21 150.34C343.03 150.65 341.77 150.95 340.51 151.14C339.25 151.34 337.97 151.44 336.68 151.49C335.39 151.53 334.08 151.49 332.74 151.41C331.4 151.33 330.04 151.18 328.61 151.01C327.19 150.83 325.73 150.62 324.2 150.36C322.67 150.1 321.04 149.83 319.44 149.45C317.84 149.07 316.17 148.63 314.58 148.05C313 147.48 311.43 146.8 309.94 146.01C308.45 145.22 306.98 144.34 305.64 143.34C304.3 142.34 303.06 141.22 301.92 140.03C300.77 138.85 299.72 137.56 298.77 136.22C297.83 134.88 297.01 133.45 296.25 131.99C295.5 130.53 294.83 129.01 294.24 127.46C293.66 125.92 293.13 124.32 292.76 122.71C292.39 121.1 292.16 119.45 292.01 117.8C291.87 116.15 291.86 114.48 291.91 112.83C291.96 111.17 292.1 109.51 292.33 107.87C292.57 106.23 292.92 104.6 293.31 102.99C293.7 101.38 294.12 99.76 294.69 98.21C295.26 96.66 295.91 95.12 296.71 93.67C297.5 92.22 298.42 90.81 299.45 89.51C300.48 88.2 301.61 86.94 302.88 85.83C304.15 84.72 305.56 83.71 307.05 82.84C308.53 81.96 310.18 81.24 311.79 80.59C313.4 79.95 315.04 79.38 316.72 78.97C318.4 78.55 320.11 78.22 321.88 78.1C323.66 77.97 325.53 78.03 327.36 78.22C329.2 78.42 331.12 78.84 332.9 79.28C334.68 79.71 336.47 80.34 338.06 80.82C339.65 81.31 341.1 81.81 342.43 82.17C343.76 82.54 344.92 82.8 346.05 83.04C347.17 83.28 348.19 83.44 349.18 83.6C350.18 83.76 351.1 83.87 352.02 83.99C352.93 84.12 353.8 84.22 354.65 84.33C355.51 84.43 356.33 84.52 357.15 84.6C357.96 84.69 358.75 84.75 359.53 84.82C360.32 84.88 361.09 84.93 361.85 84.99C362.62 85.05 363.38 85.1 364.14 85.16C364.9 85.22 365.65 85.27 366.41 85.33C367.17 85.38 367.93 85.44 368.7 85.5C369.46 85.55 370.23 85.61 371.02 85.65C371.8 85.69 372.6 85.71 373.42 85.74C374.24 85.77 375.06 85.79 375.92 85.82C376.78 85.84 377.65 85.87 378.57 85.88C379.48 85.9 380.42 85.9 381.41 85.91C382.41 85.91 383.44 85.89 384.52 85.9C385.59 85.91 386.72 85.91 387.87 85.97C389.01 86.03 390.2 86.12 391.39 86.27C392.59 86.42 393.83 86.59 395.03 86.87C396.24 87.14 397.45 87.48 398.62 87.91C399.78 88.34 400.94 88.85 402.02 89.45C403.09 90.05 404.11 90.75 405.07 91.51C406.03 92.27 406.95 93.1 407.78 93.99C408.6 94.88 409.36 95.85 410.02 96.87C410.67 97.88 411.29 98.95 411.71 100.07C412.13 101.19 412.41 102.39 412.55 103.59C412.69 104.79 412.76 106.03 412.56 107.27C412.35 108.5 412.06 109.78 411.31 111.01C410.56 112.24 409.37 113.52 408.04 114.65C406.7 115.78 404.89 116.86 403.28 117.8C401.68 118.74 400.02 119.56 398.4 120.28C396.77 120.99 395.13 121.59 393.54 122.09C391.95 122.6 390.19 122.93 388.86 123.3C387.53 123.66 386.42 123.93 385.54 124.26C384.66 124.6 384.17 124.96 383.58 125.29C382.99 125.62 382.53 125.97 382.01 126.26C381.48 126.56 380.96 126.83 380.44 127.07C379.91 127.31 379.36 127.51 378.85 127.71C378.35 127.91 377.86 128.08 377.42 128.28C376.98 128.47 376.58 128.67 376.2 128.88C375.83 129.09 375.5 129.32 375.17 129.55C374.83 129.77 374.51 130 374.18 130.22C373.86 130.44 373.54 130.65 373.22 130.88C372.91 131.11 372.61 131.35 372.31 131.6C372.01 131.85 371.72 132.11 371.42 132.39C371.13 132.66 370.84 132.95 370.53 133.24C370.23 133.54 369.92 133.84 369.6 134.15C369.29 134.46 368.96 134.77 368.62 135.11C368.28 135.44 367.94 135.78 367.57 136.13C367.21 136.49 366.83 136.87 366.43 137.25C366.03 137.63 365.61 138.04 365.17 138.41C364.72 138.79 364.25 139.15 363.76 139.52C363.26 139.89 362.75 140.25 362.2 140.65C361.65 141.04 361.08 141.47 360.47 141.89C359.86 142.31 359.22 142.72 358.53 143.17C357.84 143.62 357.12 144.07 356.32 144.58C355.53 145.08 354.69 145.64 353.78 146.18Z" fill="#1f77b4" fill-opacity="0.2" stroke="#1f77b4" stroke-opacity="0.65" stroke-width="0.9"/>
<path d="M333.15 117.8C332.35 117.1 331.47 116.35 330.66 115.54C329.86 114.73 329.04 113.85 328.31 112.92C327.57 112 326.91 111.02 326.25 109.99C325.59 108.95 324.91 107.85 324.34 106.71C323.77 105.58 323.27 104.4 322.83 103.18C322.39 101.96 322.03 100.71 321.69 99.41C321.35 98.1 321.06 96.76 320.79 95.36C320.52 93.95 320.27 92.49 320.04 90.96C319.82 89.42 319.57 87.79 319.44 86.15C319.31 84.51 319.21 82.78 319.26 81.1C319.32 79.42 319.49 77.72 319.77 76.06C320.06 74.4 320.45 72.72 320.99 71.14C321.52 69.56 322.2 68.03 322.98 66.58C323.75 65.12 324.65 63.72 325.64 62.41C326.62 61.1 327.73 59.87 328.88 58.7C330.03 57.53 331.27 56.43 332.56 55.4C333.85 54.36 335.21 53.37 336.62 52.52C338.04 51.67 339.54 50.93 341.06 50.29C342.59 49.64 344.17 49.11 345.76 48.65C347.35 48.19 348.98 47.81 350.61 47.52C352.24 47.24 353.9 47.07 355.55 46.94C357.2 46.82 358.87 46.72 360.52 46.78C362.17 46.84 363.84 46.99 365.46 47.3C367.09 47.6 368.71 48.04 370.27 48.62C371.83 49.19 373.38 49.88 374.82 50.74C376.27 51.6 377.67 52.64 378.96 53.78C380.25 54.93 381.45 56.26 382.56 57.6C383.67 58.93 384.71 60.32 385.63 61.79C386.55 63.26 387.39 64.78 388.06 66.43C388.72 68.08 389.25 69.87 389.63 71.68C390.01 73.49 390.2 75.44 390.34 77.27C390.48 79.1 390.43 80.99 390.46 82.65C390.49 84.31 390.47 85.85 390.53 87.23C390.59 88.61 390.7 89.79 390.82 90.93C390.94 92.08 391.1 93.09 391.26 94.09C391.41 95.08 391.59 96 391.76 96.91C391.92 97.81 392.09 98.67 392.26 99.52C392.42 100.36 392.59 101.18 392.76 101.97C392.94 102.77 393.12 103.54 393.3 104.31C393.48 105.08 393.67 105.82 393.85 106.57C394.03 107.32 394.21 108.06 394.4 108.8C394.58 109.54 394.76 110.27 394.94 111.01C395.12 111.75 395.29 112.49 395.48 113.24C395.67 113.98 395.85 114.73 396.06 115.49C396.26 116.25 396.49 117.01 396.71 117.8C396.94 118.59 397.17 119.38 397.41 120.21C397.65 121.03 397.9 121.87 398.17 122.74C398.44 123.62 398.72 124.51 399.02 125.46C399.33 126.4 399.67 127.38 399.99 128.41C400.31 129.43 400.66 130.51 400.95 131.61C401.25 132.72 401.54 133.88 401.76 135.06C401.99 136.24 402.21 137.47 402.32 138.7C402.43 139.94 402.48 141.2 402.43 142.44C402.38 143.68 402.25 144.94 402.02 146.15C401.78 147.36 401.43 148.54 401 149.69C400.58 150.84 400.07 151.97 399.48 153.03C398.88 154.09 398.2 155.11 397.44 156.05C396.68 156.98 395.85 157.9 394.91 158.65C393.98 159.4 392.92 160.03 391.83 160.54C390.73 161.04 389.57 161.49 388.33 161.68C387.09 161.86 385.79 161.98 384.39 161.65C382.98 161.31 381.4 160.58 379.91 159.66C378.42 158.74 376.84 157.35 375.45 156.11C374.06 154.87 372.77 153.55 371.58 152.23C370.4 150.9 369.33 149.53 368.36 148.17C367.39 146.82 366.52 145.25 365.76 144.09C365.01 142.94 364.41 141.97 363.82 141.24C363.23 140.5 362.73 140.15 362.24 139.69C361.74 139.23 361.27 138.9 360.83 138.49C360.38 138.09 359.96 137.67 359.57 137.25C359.18 136.82 358.82 136.36 358.48 135.94C358.13 135.52 357.81 135.11 357.49 134.75C357.17 134.39 356.86 134.07 356.54 133.78C356.23 133.49 355.9 133.25 355.59 133C355.27 132.75 354.96 132.51 354.64 132.27C354.33 132.03 354.03 131.79 353.71 131.57C353.4 131.34 353.08 131.12 352.75 130.91C352.42 130.71 352.08 130.52 351.73 130.32C351.38 130.12 351.01 129.93 350.64 129.74C350.27 129.54 349.89 129.34 349.49 129.13C349.1 128.93 348.7 128.72 348.28 128.5C347.86 128.28 347.43 128.05 346.98 127.81C346.52 127.58 346.05 127.34 345.56 127.07C345.08 126.81 344.56 126.54 344.06 126.23C343.57 125.92 343.09 125.59 342.58 125.23C342.07 124.88 341.57 124.5 341.02 124.1C340.48 123.7 339.9 123.29 339.31 122.84C338.72 122.38 338.13 121.9 337.49 121.39C336.85 120.87 336.19 120.32 335.47 119.72C334.75 119.13 333.96 118.5 333.15 117.8Z" fill="#ff7f0e" fill-opacity="0.2" stroke="#ff7f0e" stroke-opacity="0.65" stroke-width="0.9"/>
<path d="M353.78 89.42C354.19 88.44 354.63 87.37 355.16 86.35C355.68 85.33 356.26 84.28 356.92 83.3C357.57 82.31 358.29 81.38 359.07 80.43C359.85 79.49 360.69 78.5 361.6 77.6C362.5 76.71 363.47 75.87 364.49 75.08C365.51 74.28 366.59 73.55 367.73 72.82C368.86 72.1 370.05 71.42 371.3 70.72C372.56 70.03 373.86 69.34 375.25 68.65C376.64 67.96 378.12 67.22 379.64 66.59C381.16 65.96 382.77 65.33 384.39 64.86C386 64.4 387.67 64.03 389.34 63.79C391.01 63.55 392.73 63.4 394.4 63.42C396.06 63.44 397.73 63.62 399.35 63.91C400.97 64.2 402.58 64.62 404.14 65.15C405.69 65.68 407.19 66.35 408.66 67.09C410.13 67.82 411.57 68.66 412.94 69.57C414.32 70.48 415.69 71.46 416.94 72.54C418.18 73.63 419.35 74.83 420.43 76.08C421.51 77.32 422.51 78.66 423.44 80.04C424.37 81.41 425.23 82.83 426.01 84.3C426.78 85.76 427.46 87.29 428.09 88.82C428.72 90.35 429.32 91.91 429.78 93.49C430.23 95.08 430.6 96.71 430.81 98.35C431.03 99.99 431.11 101.68 431.05 103.34C430.98 105 430.8 106.68 430.43 108.32C430.06 109.97 429.5 111.62 428.82 113.2C428.13 114.78 427.23 116.33 426.3 117.8C425.38 119.27 424.38 120.69 423.26 122.01C422.15 123.34 420.96 124.61 419.6 125.75C418.24 126.9 416.69 127.95 415.09 128.87C413.49 129.79 411.69 130.58 409.99 131.28C408.3 131.97 406.48 132.51 404.91 133.05C403.34 133.6 401.87 134.05 400.58 134.53C399.29 135.02 398.2 135.49 397.15 135.96C396.1 136.43 395.18 136.89 394.28 137.35C393.38 137.8 392.57 138.26 391.76 138.69C390.95 139.13 390.18 139.55 389.43 139.98C388.68 140.4 387.95 140.8 387.25 141.22C386.54 141.63 385.86 142.04 385.19 142.45C384.52 142.86 383.87 143.26 383.21 143.67C382.56 144.07 381.91 144.48 381.26 144.88C380.62 145.28 379.97 145.68 379.33 146.08C378.68 146.48 378.03 146.87 377.38 147.28C376.73 147.69 376.07 148.09 375.41 148.52C374.75 148.95 374.1 149.41 373.42 149.86C372.74 150.32 372.05 150.79 371.35 151.27C370.64 151.76 369.92 152.25 369.17 152.77C368.42 153.3 367.65 153.84 366.85 154.43C366.05 155.01 365.22 155.63 364.34 156.26C363.47 156.88 362.55 157.54 361.59 158.16C360.63 158.79 359.62 159.42 358.56 160C357.51 160.58 356.4 161.17 355.27 161.65C354.13 162.14 352.95 162.58 351.75 162.92C350.56 163.25 349.32 163.52 348.1 163.67C346.87 163.81 345.64 163.85 344.42 163.8C343.19 163.75 341.96 163.62 340.77 163.38C339.58 163.14 338.39 162.81 337.27 162.37C336.14 161.94 335.01 161.43 334.01 160.78C333.01 160.12 332.08 159.31 331.26 158.42C330.44 157.54 329.66 156.57 329.1 155.45C328.54 154.33 328.02 153.13 327.91 151.69C327.79 150.25 328 148.52 328.42 146.82C328.83 145.12 329.66 143.18 330.41 141.48C331.16 139.77 332.02 138.14 332.91 136.6C333.8 135.07 334.78 133.62 335.77 132.28C336.76 130.94 337.98 129.63 338.85 128.55C339.72 127.48 340.45 126.61 340.96 125.82C341.48 125.03 341.66 124.45 341.94 123.84C342.22 123.22 342.4 122.67 342.65 122.13C342.9 121.58 343.16 121.05 343.45 120.55C343.73 120.04 344.06 119.56 344.35 119.1C344.64 118.65 344.94 118.22 345.18 117.8C345.42 117.38 345.63 116.99 345.81 116.6C345.99 116.21 346.11 115.83 346.25 115.45C346.39 115.07 346.52 114.7 346.65 114.33C346.79 113.96 346.92 113.59 347.04 113.22C347.16 112.85 347.27 112.49 347.36 112.11C347.46 111.73 347.53 111.34 347.61 110.95C347.69 110.55 347.76 110.15 347.83 109.73C347.9 109.32 347.97 108.9 348.05 108.46C348.12 108.02 348.2 107.57 348.28 107.1C348.36 106.64 348.44 106.16 348.53 105.65C348.61 105.15 348.69 104.62 348.79 104.08C348.89 103.54 348.99 102.96 349.13 102.4C349.27 101.83 349.44 101.27 349.62 100.68C349.8 100.08 350 99.49 350.22 98.85C350.43 98.2 350.64 97.53 350.89 96.83C351.14 96.13 351.41 95.41 351.71 94.64C352 93.88 352.32 93.09 352.66 92.21C353.01 91.34 353.36 90.39 353.78 89.42Z" fill="#2ca02c" fill-opacity="0.2" stroke="#2ca02c" stroke-opacity="0.65" stroke-width="0.9"/>
<path d="M387.15 100.26C388.2 100.35 389.36 100.44 390.49 100.62C391.62 100.81 392.79 101.04 393.93 101.35C395.07 101.67 396.18 102.07 397.32 102.52C398.47 102.97 399.67 103.46 400.79 104.04C401.92 104.63 403.02 105.29 404.09 106.02C405.17 106.74 406.19 107.54 407.23 108.4C408.28 109.25 409.29 110.17 410.34 111.15C411.39 112.12 412.45 113.16 413.53 114.27C414.61 115.38 415.78 116.55 416.85 117.8C417.92 119.05 419.01 120.39 419.95 121.78C420.9 123.18 421.76 124.65 422.51 126.16C423.25 127.67 423.92 129.26 424.42 130.85C424.92 132.45 425.26 134.08 425.49 135.72C425.71 137.35 425.81 139.01 425.79 140.65C425.76 142.29 425.59 143.93 425.34 145.56C425.09 147.18 424.74 148.8 424.3 150.4C423.87 151.99 423.36 153.59 422.71 155.11C422.06 156.63 421.28 158.11 420.43 159.52C419.58 160.94 418.61 162.3 417.59 163.61C416.58 164.92 415.49 166.18 414.33 167.37C413.18 168.56 411.94 169.68 410.67 170.75C409.41 171.82 408.12 172.88 406.75 173.8C405.38 174.72 403.94 175.58 402.45 176.29C400.95 176.99 399.38 177.59 397.78 178.05C396.18 178.5 394.53 178.85 392.85 179C391.17 179.15 389.43 179.14 387.71 178.97C386 178.81 384.24 178.43 382.56 178C380.88 177.58 379.22 177.07 377.62 176.42C376.01 175.77 374.43 175.03 372.93 174.09C371.42 173.15 369.94 172 368.57 170.77C367.2 169.53 365.89 168.06 364.71 166.66C363.52 165.26 362.44 163.7 361.44 162.37C360.44 161.05 359.56 159.79 358.7 158.71C357.84 157.63 357.05 156.74 356.28 155.89C355.51 155.03 354.79 154.3 354.08 153.59C353.36 152.88 352.68 152.24 352.02 151.61C351.35 150.97 350.71 150.37 350.08 149.79C349.44 149.2 348.83 148.64 348.22 148.1C347.61 147.55 347.01 147.04 346.42 146.52C345.82 146.01 345.23 145.51 344.64 145.02C344.05 144.52 343.47 144.03 342.89 143.54C342.31 143.05 341.73 142.56 341.15 142.07C340.57 141.57 339.99 141.08 339.41 140.59C338.82 140.09 338.23 139.6 337.62 139.1C337 138.61 336.37 138.12 335.73 137.62C335.08 137.11 334.43 136.6 333.75 136.08C333.07 135.56 332.38 135.02 331.64 134.47C330.91 133.92 330.16 133.36 329.36 132.78C328.56 132.19 327.7 131.6 326.84 130.96C325.98 130.32 325.07 129.66 324.18 128.93C323.28 128.21 322.37 127.44 321.49 126.62C320.62 125.8 319.72 124.93 318.9 124C318.09 123.07 317.3 122.08 316.62 121.04C315.93 120.01 315.29 118.92 314.77 117.8C314.26 116.68 313.84 115.52 313.51 114.34C313.18 113.16 312.92 111.95 312.78 110.74C312.64 109.54 312.59 108.3 312.66 107.1C312.72 105.89 312.85 104.67 313.17 103.51C313.49 102.36 313.97 101.22 314.56 100.17C315.15 99.12 315.82 98.07 316.72 97.19C317.61 96.31 318.59 95.45 319.92 94.9C321.26 94.34 322.97 94.01 324.71 93.88C326.46 93.75 328.56 93.94 330.41 94.12C332.26 94.31 334.09 94.62 335.82 94.99C337.55 95.37 339.23 95.85 340.82 96.38C342.4 96.9 344.02 97.66 345.31 98.15C346.6 98.65 347.66 99.07 348.56 99.32C349.47 99.57 350.08 99.56 350.75 99.64C351.42 99.72 352 99.71 352.6 99.78C353.2 99.85 353.78 99.94 354.34 100.05C354.91 100.17 355.47 100.33 356 100.47C356.52 100.6 357.02 100.75 357.49 100.85C357.96 100.95 358.4 101.03 358.83 101.08C359.26 101.13 359.66 101.13 360.06 101.15C360.47 101.16 360.86 101.17 361.25 101.18C361.65 101.19 362.03 101.21 362.42 101.21C362.81 101.2 363.19 101.19 363.58 101.17C363.97 101.14 364.36 101.09 364.76 101.05C365.16 101 365.57 100.94 365.98 100.88C366.4 100.82 366.83 100.76 367.27 100.69C367.71 100.63 368.15 100.56 368.62 100.49C369.09 100.43 369.57 100.36 370.08 100.28C370.58 100.21 371.11 100.12 371.66 100.05C372.21 99.98 372.78 99.89 373.36 99.85C373.95 99.8 374.53 99.8 375.15 99.78C375.77 99.77 376.4 99.78 377.08 99.78C377.75 99.79 378.46 99.78 379.21 99.8C379.95 99.82 380.71 99.86 381.53 99.9C382.35 99.95 383.2 100 384.14 100.06C385.08 100.12 386.09 100.16 387.15 100.26Z" fill="#d62728" fill-opacity="0.2" stroke="#d62728" stroke-opacity="0.65" stroke-width="0.9"/>
<path d="M387.15 135.34C387.38 136.38 387.66 137.5 387.83 138.64C388.01 139.77 388.15 140.96 388.2 142.14C388.25 143.32 388.21 144.5 388.14 145.72C388.07 146.95 387.97 148.24 387.76 149.49C387.56 150.75 387.26 152 386.91 153.24C386.55 154.49 386.1 155.71 385.61 156.96C385.12 158.22 384.56 159.47 383.96 160.77C383.35 162.07 382.69 163.39 381.97 164.76C381.26 166.14 380.5 167.61 379.64 169.01C378.78 170.42 377.85 171.87 376.81 173.2C375.78 174.52 374.64 175.8 373.43 176.98C372.23 178.15 370.92 179.28 369.56 180.25C368.2 181.21 366.75 182.04 365.27 182.76C363.79 183.49 362.24 184.09 360.67 184.57C359.1 185.06 357.49 185.4 355.87 185.67C354.25 185.93 352.59 186.1 350.94 186.18C349.29 186.25 347.61 186.26 345.97 186.12C344.32 185.97 342.67 185.69 341.06 185.31C339.45 184.94 337.86 184.44 336.3 183.88C334.75 183.31 333.21 182.67 331.72 181.94C330.23 181.21 328.79 180.37 327.38 179.5C325.97 178.63 324.56 177.73 323.26 176.71C321.96 175.7 320.7 174.59 319.57 173.39C318.43 172.19 317.38 170.88 316.45 169.5C315.53 168.12 314.68 166.65 314.02 165.1C313.35 163.55 312.83 161.89 312.46 160.21C312.09 158.53 311.9 156.74 311.79 155.01C311.67 153.27 311.64 151.54 311.77 149.81C311.89 148.08 312.1 146.36 312.53 144.63C312.96 142.91 313.59 141.15 314.35 139.46C315.1 137.78 316.1 136.08 317.06 134.52C318.02 132.96 319.18 131.45 320.13 130.09C321.08 128.73 322 127.5 322.76 126.35C323.52 125.2 324.13 124.18 324.7 123.18C325.28 122.19 325.74 121.27 326.2 120.37C326.66 119.48 327.06 118.63 327.45 117.8C327.85 116.97 328.22 116.18 328.59 115.39C328.95 114.61 329.29 113.86 329.62 113.11C329.95 112.36 330.26 111.63 330.56 110.9C330.86 110.18 331.15 109.46 331.44 108.75C331.73 108.04 332.02 107.33 332.31 106.63C332.6 105.92 332.88 105.22 333.17 104.52C333.46 103.81 333.75 103.11 334.04 102.4C334.33 101.69 334.62 100.98 334.9 100.24C335.18 99.5 335.45 98.75 335.73 97.98C336.01 97.22 336.29 96.44 336.57 95.63C336.86 94.82 337.16 94 337.45 93.13C337.75 92.27 338.05 91.37 338.36 90.43C338.67 89.49 338.97 88.5 339.31 87.48C339.65 86.46 340 85.39 340.41 84.32C340.83 83.24 341.27 82.14 341.78 81.05C342.29 79.96 342.85 78.84 343.48 77.78C344.11 76.72 344.81 75.66 345.58 74.69C346.35 73.71 347.19 72.77 348.1 71.93C349 71.1 349.98 70.34 351 69.66C352.01 68.98 353.09 68.37 354.19 67.86C355.3 67.35 356.45 66.93 357.62 66.62C358.79 66.3 359.99 66.05 361.19 65.99C362.39 65.94 363.61 66.04 364.8 66.28C365.98 66.52 367.18 66.83 368.3 67.41C369.41 67.99 370.53 68.66 371.47 69.76C372.41 70.85 373.26 72.37 373.92 74C374.58 75.62 375.05 77.67 375.45 79.49C375.84 81.31 376.11 83.14 376.29 84.9C376.47 86.67 376.53 88.41 376.52 90.08C376.51 91.75 376.29 93.53 376.22 94.91C376.15 96.29 376.07 97.42 376.11 98.36C376.16 99.3 376.35 99.88 376.49 100.54C376.62 101.2 376.8 101.75 376.92 102.34C377.04 102.93 377.14 103.51 377.2 104.08C377.27 104.66 377.29 105.24 377.32 105.78C377.36 106.32 377.37 106.84 377.42 107.32C377.47 107.8 377.53 108.24 377.62 108.67C377.7 109.09 377.82 109.47 377.93 109.86C378.04 110.25 378.15 110.63 378.27 111C378.38 111.38 378.48 111.75 378.6 112.12C378.73 112.49 378.85 112.85 379 113.21C379.14 113.58 379.31 113.93 379.48 114.3C379.65 114.66 379.83 115.03 380.01 115.41C380.2 115.79 380.39 116.17 380.59 116.57C380.78 116.97 380.99 117.38 381.2 117.8C381.41 118.22 381.62 118.66 381.85 119.12C382.08 119.58 382.32 120.05 382.56 120.55C382.8 121.05 383.05 121.57 383.28 122.11C383.5 122.65 383.69 123.2 383.89 123.79C384.09 124.37 384.28 124.98 384.48 125.62C384.69 126.26 384.91 126.94 385.13 127.65C385.34 128.36 385.53 129.1 385.75 129.9C385.96 130.69 386.17 131.52 386.4 132.42C386.64 133.33 386.91 134.31 387.15 135.34Z" fill="#9467bd" fill-opacity="0.2" stroke="#9467bd" stroke-opacity="0.65" stroke-width="0.9"/>
<text x="351.6" y="60.5" text-anchor="middle" class="v" font-size="7.8">0%</text>
<text x="352.9" y="79.8" text-anchor="middle" class="v" font-size="7.8">0%</text>
<text x="368.7" y="83.3" text-anchor="middle" class="v" font-size="7.8">1%</text>
<text x="383.2" y="79.9" text-anchor="middle" class="v" font-size="7.8">1%</text>
<text x="414.4" y="89.4" text-anchor="middle" class="v" font-size="7.8">11%</text>
<text x="329.5" y="89.5" text-anchor="middle" class="v" font-size="7.8">0%</text>
<text x="345.9" y="94.2" text-anchor="middle" class="v" font-size="7.8">0%</text>
<text x="363.6" y="96.5" text-anchor="middle" class="v" font-size="7.8">4%</text>
<text x="383.2" y="97" text-anchor="middle" class="v" font-size="7.8">1%</text>
<text x="400.1" y="99.1" text-anchor="middle" class="v" font-size="7.8">2%</text>
<text x="303.6" y="113.6" text-anchor="middle" class="v" font-size="7.8">0%</text>
<text x="327.6" y="102.5" text-anchor="middle" class="v" font-size="7.8">0%</text>
<text x="320.2" y="116.8" text-anchor="middle" class="v" font-size="7.8">0%</text>
<text x="339.3" y="113.6" text-anchor="middle" class="v" font-size="7.8">0%</text>
<text x="363.8" y="120.9" text-anchor="middle" class="v" font-size="7.8">51%</text>
<text x="386.7" y="113.7" text-anchor="middle" class="v" font-size="7.8">2%</text>
<text x="402.2" y="114.2" text-anchor="middle" class="v" font-size="7.8">5%</text>
<text x="409.1" y="125.6" text-anchor="middle" class="v" font-size="7.8">0%</text>
<text x="332.5" y="127.9" text-anchor="middle" class="v" font-size="7.8">0%</text>
<text x="347.3" y="140.1" text-anchor="middle" class="v" font-size="7.8">13%</text>
<text x="392.5" y="132.7" text-anchor="middle" class="v" font-size="7.8">0%</text>
<text x="322.5" y="143.2" text-anchor="middle" class="v" font-size="7.8">0%</text>
<text x="336" y="148.5" text-anchor="middle" class="v" font-size="7.8">3%</text>
<text x="378" y="142.7" text-anchor="middle" class="v" font-size="7.8">0%</text>
<text x="394.8" y="147.2" text-anchor="middle" class="v" font-size="7.8">0%</text>
<text x="361.6" y="152.5" text-anchor="middle" class="v" font-size="7.8">2%</text>
<text x="347.6" y="158.6" text-anchor="middle" class="v" font-size="7.8">3%</text>
<text x="380.6" y="155.9" text-anchor="middle" class="v" font-size="7.8">0%</text>
<text x="409.1" y="157" text-anchor="middle" class="v" font-size="7.8">0%</text>
<text x="372.9" y="166.5" text-anchor="middle" class="v" font-size="7.8">0%</text>
<text x="346.5" y="176.3" text-anchor="middle" class="v" font-size="7.8">0%</text>
<text x="339.2" y="32.9" class="v">Oculomotor</text>
<text x="343.6" y="40.9" class="v">(61%)</text>
<text x="414" y="62.9" class="v">Anxiety/mood</text>
<text x="420.9" y="70.6" class="v">(100%)</text>
<text x="274.2" y="77.5" class="v">Vestibular</text>
<text x="278.6" y="85.4" class="v">(82%)</text>
<text x="392.5" y="186.9" class="v">Post-traumatic</text>
<text x="399" y="195.1" class="v">headache</text>
<text x="401.3" y="203.2" class="v">(73%)</text>
<text x="315.3" y="193.8" class="v">Cognitive/fatigue</text>
<text x="328.8" y="201.6" class="v">(78%)</text>
</svg>
</body></html>
